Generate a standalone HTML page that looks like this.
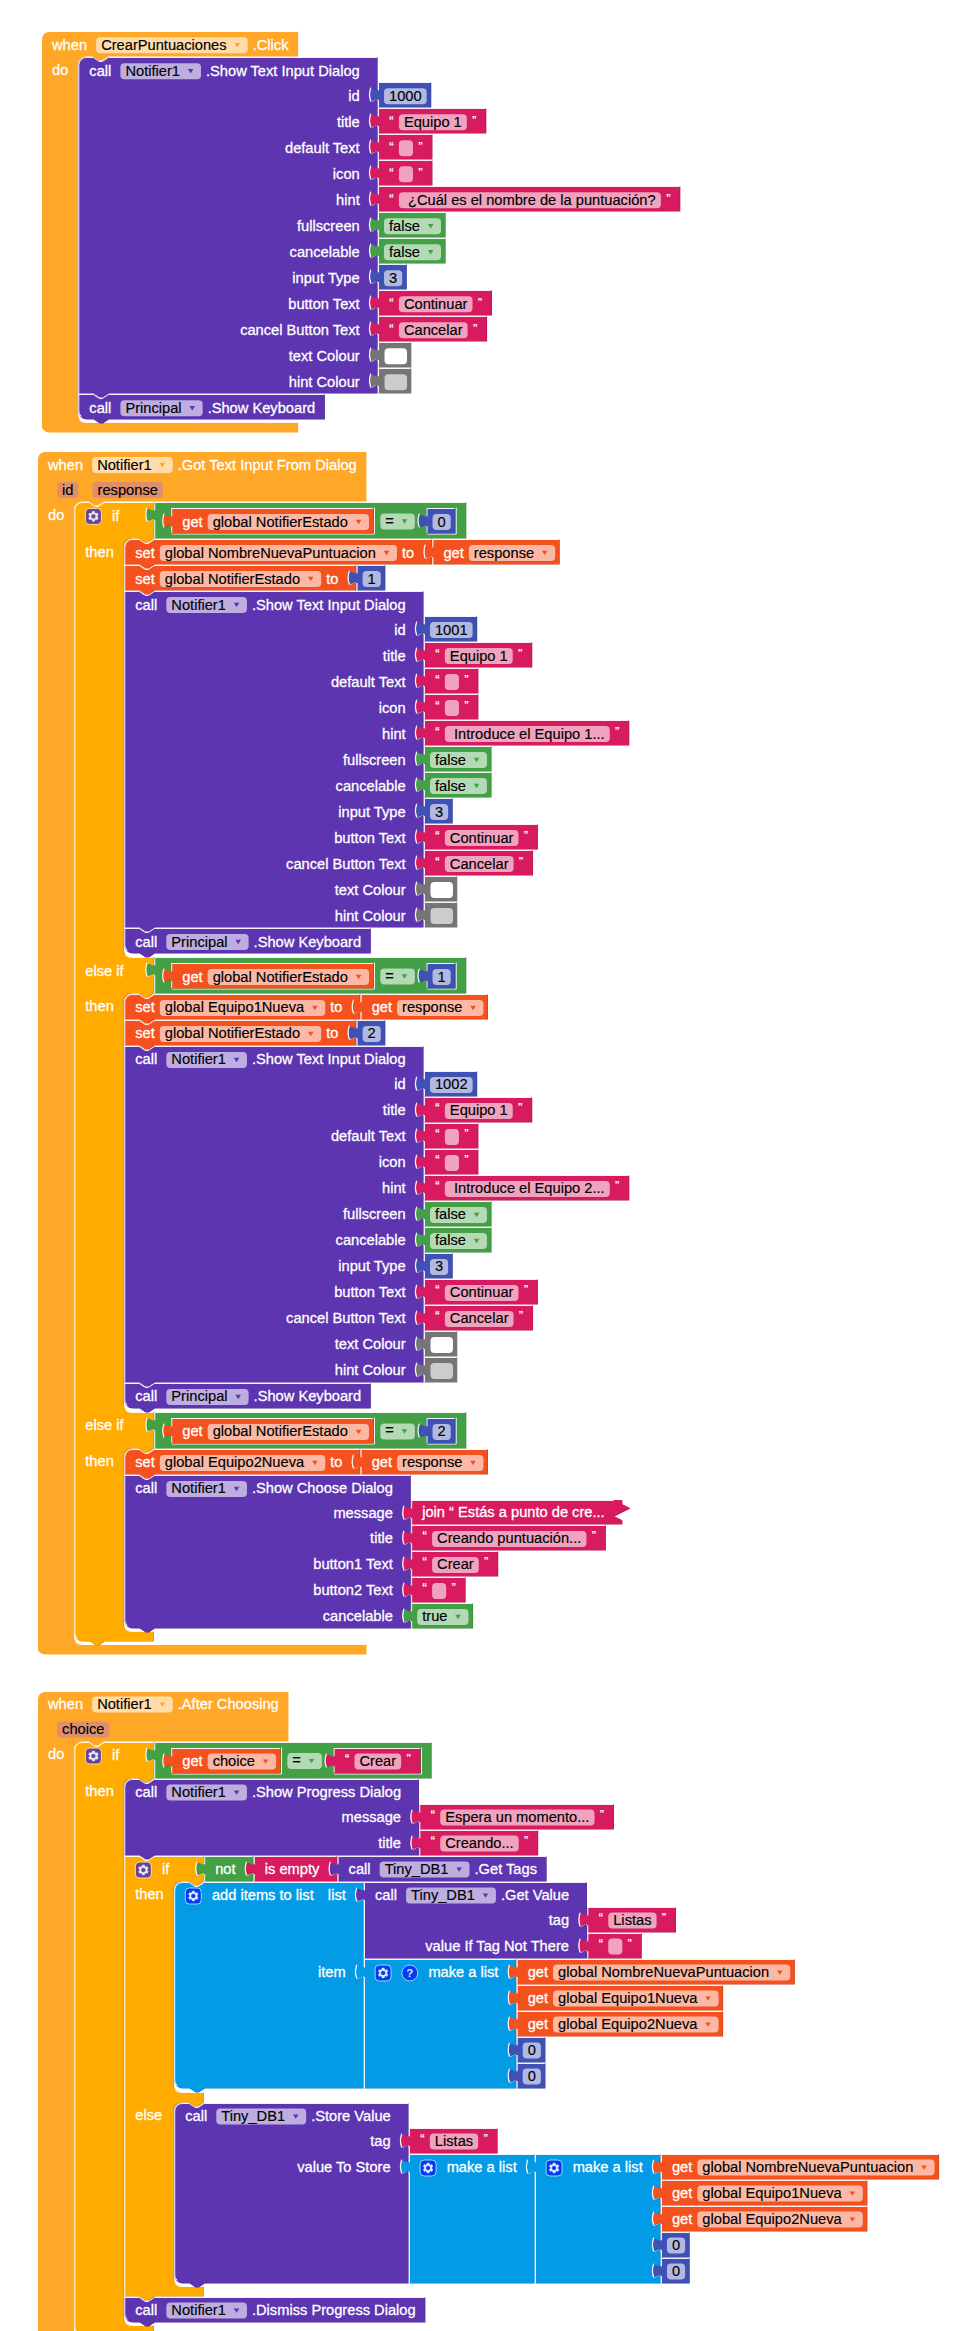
<!DOCTYPE html>
<html><head><meta charset="utf-8"><title>Blocks</title>
<style>
html,body{margin:0;padding:0;background:#fff}
body{width:960px;height:2331px;overflow:hidden}
svg{display:block}
text{font-family:"Liberation Sans",Arial,Helvetica,sans-serif;font-size:14.667px}
.w{fill:#fff;stroke:#fff;stroke-width:0.28px}
.qt{fill:#fff;font-size:13px;stroke:#fff;stroke-width:0.2px}
.k{fill:#000;stroke:#000;stroke-width:0.15px}
.q{fill:#fff;font-weight:bold;font-size:11.5px;text-anchor:middle;fill-opacity:0.85}
</style></head><body>
<svg width="960" height="2331" viewBox="0 0 960 2331">
<rect width="960" height="2331" fill="#fff"/>
<g transform="translate(41,31)"><path d="M 0,8 A 8,8 0 0,1 8,0 H 256.54 H 256.54 v 25 H 66.31 l -6,4 -3,0 -6,-4 h -7 a 8,8 0 0,0 -8,8 v 350 a 8,8 0 0,0 8,8 H 256.54 v 10 H 8 a 8,8 0 0,1 -8,-8 z" fill="#FFA726" transform="translate(0.6,0.6)"/><path d="M 0,8 A 8,8 0 0,1 8,0 H 256.54 H 256.54 v 25 H 66.31 l -6,4 -3,0 -6,-4 h -7 a 8,8 0 0,0 -8,8 v 350 a 8,8 0 0,0 8,8 H 256.54 v 10 H 8 a 8,8 0 0,1 -8,-8 z" fill="#FFA726"/><path d="M 38.3,389.01 a 8.5,8.5 0 0,0 6.01,2.49 H 256.04" fill="none" stroke="#fff9f0" stroke-width="1" stroke-linecap="round"/><path d="M 0,393 V 8 A 8,8 0 0,1 8,0 H 256.54" fill="none" stroke="#fff" stroke-width="2"/><rect x="-1" y="8" width="2" height="395" fill="#fff"/></g>
<rect x="96.14" y="37.2" width="151.56" height="16" rx="4" fill="#fff" fill-opacity="0.6"/>
<path d="M 234.49,43 h 5.6 l -2.8,4.4 z" fill="#FFA726"/>
<g transform="translate(78.31,57)"><path d="M 0,8 A 8,8 0 0,1 8,0 H 15 l 6,4 3,0 6,-4 H 298.72 H 298.72 v 25 H 298.72 v 5 c 0,10 -8,-6 -8,7.5 s 8,-2.5 8,7.5 v 6 H 298.72 v 5 c 0,10 -8,-6 -8,7.5 s 8,-2.5 8,7.5 v 6 H 298.72 v 5 c 0,10 -8,-6 -8,7.5 s 8,-2.5 8,7.5 v 6 H 298.72 v 5 c 0,10 -8,-6 -8,7.5 s 8,-2.5 8,7.5 v 6 H 298.72 v 5 c 0,10 -8,-6 -8,7.5 s 8,-2.5 8,7.5 v 6 H 298.72 v 5 c 0,10 -8,-6 -8,7.5 s 8,-2.5 8,7.5 v 6 H 298.72 v 5 c 0,10 -8,-6 -8,7.5 s 8,-2.5 8,7.5 v 6 H 298.72 v 5 c 0,10 -8,-6 -8,7.5 s 8,-2.5 8,7.5 v 6 H 298.72 v 5 c 0,10 -8,-6 -8,7.5 s 8,-2.5 8,7.5 v 6 H 298.72 v 5 c 0,10 -8,-6 -8,7.5 s 8,-2.5 8,7.5 v 6 H 298.72 v 5 c 0,10 -8,-6 -8,7.5 s 8,-2.5 8,7.5 v 6 H 298.72 v 5 c 0,10 -8,-6 -8,7.5 s 8,-2.5 8,7.5 v 5 H 30 l -6,4 -3,0 -6,-4 H 0 z" fill="#4b2a8e" transform="translate(0.6,0.6)"/><path d="M 0,8 A 8,8 0 0,1 8,0 H 15 l 6,4 3,0 6,-4 H 298.72 H 298.72 v 25 H 298.72 v 5 c 0,10 -8,-6 -8,7.5 s 8,-2.5 8,7.5 v 6 H 298.72 v 5 c 0,10 -8,-6 -8,7.5 s 8,-2.5 8,7.5 v 6 H 298.72 v 5 c 0,10 -8,-6 -8,7.5 s 8,-2.5 8,7.5 v 6 H 298.72 v 5 c 0,10 -8,-6 -8,7.5 s 8,-2.5 8,7.5 v 6 H 298.72 v 5 c 0,10 -8,-6 -8,7.5 s 8,-2.5 8,7.5 v 6 H 298.72 v 5 c 0,10 -8,-6 -8,7.5 s 8,-2.5 8,7.5 v 6 H 298.72 v 5 c 0,10 -8,-6 -8,7.5 s 8,-2.5 8,7.5 v 6 H 298.72 v 5 c 0,10 -8,-6 -8,7.5 s 8,-2.5 8,7.5 v 6 H 298.72 v 5 c 0,10 -8,-6 -8,7.5 s 8,-2.5 8,7.5 v 6 H 298.72 v 5 c 0,10 -8,-6 -8,7.5 s 8,-2.5 8,7.5 v 6 H 298.72 v 5 c 0,10 -8,-6 -8,7.5 s 8,-2.5 8,7.5 v 6 H 298.72 v 5 c 0,10 -8,-6 -8,7.5 s 8,-2.5 8,7.5 v 5 H 30 l -6,4 -3,0 -6,-4 H 0 z" fill="#5E35B1"/><path d="M 0.5,7.5 A 7.5,7.5 0 0,1 8,0.5 H 15 l 6,4 3,0 6,-4 H 298.22 M 0.5,335.5 V 8 M 293.72,44.3 l 3.68,-2.1 M 293.72,70.3 l 3.68,-2.1 M 293.72,96.3 l 3.68,-2.1 M 293.72,122.3 l 3.68,-2.1 M 293.72,148.3 l 3.68,-2.1 M 293.72,174.3 l 3.68,-2.1 M 293.72,200.3 l 3.68,-2.1 M 293.72,226.3 l 3.68,-2.1 M 293.72,252.3 l 3.68,-2.1 M 293.72,278.3 l 3.68,-2.1 M 293.72,304.3 l 3.68,-2.1 M 293.72,330.3 l 3.68,-2.1" fill="none" stroke="#f4f1fa" stroke-width="1" stroke-linecap="round"/></g>
<rect x="120.4" y="63.2" width="80.61" height="16" rx="4" fill="#fff" fill-opacity="0.6"/>
<path d="M 187.81,69 h 5.6 l -2.8,4.4 z" fill="#5E35B1"/>
<g transform="translate(378.03,82)"><path d="M 0,0 H 52.63 H 52.63 v 25 H 0 V 20 c 0,-10 -8,6 -8,-7.5 s 8,2.5 8,-7.5 z" fill="#324191" transform="translate(0.6,0.6)"/><path d="M 0,0 H 52.63 H 52.63 v 25 H 0 V 20 c 0,-10 -8,6 -8,-7.5 s 8,2.5 8,-7.5 z" fill="#3F51B5"/><path d="M 0.5,0.5 H 52.13 M 0.5,24.5 V 18.5 M 0.5,8 V 0.5 H 1" fill="none" stroke="#f2f3fa" stroke-width="1" stroke-linecap="round"/><path d="M -7.4,19 q -2.2,-6.4 0,-12.8" fill="none" stroke="#f2f3fa" stroke-width="1.25" stroke-linecap="round"/></g>
<rect x="384.03" y="88.2" width="42.63" height="16" rx="4" fill="#fff" fill-opacity="0.6"/>
<g transform="translate(378.03,108)"><path d="M 0,0 H 107.67 H 107.67 v 25 H 0 V 20 c 0,-10 -8,6 -8,-7.5 s 8,2.5 8,-7.5 z" fill="#ad164d" transform="translate(0.6,0.6)"/><path d="M 0,0 H 107.67 H 107.67 v 25 H 0 V 20 c 0,-10 -8,6 -8,-7.5 s 8,2.5 8,-7.5 z" fill="#D81B60"/><path d="M 0.5,0.5 H 107.17 M 0.5,24.5 V 18.5 M 0.5,8 V 0.5 H 1" fill="none" stroke="#fceff4" stroke-width="1" stroke-linecap="round"/><path d="M -7.4,19 q -2.2,-6.4 0,-12.8" fill="none" stroke="#fceff4" stroke-width="1.25" stroke-linecap="round"/></g>
<rect x="398.92" y="114.2" width="67.9" height="16" rx="4" fill="#fff" fill-opacity="0.6"/>
<g transform="translate(378.03,134)"><path d="M 0,0 H 53.84 H 53.84 v 25 H 0 V 20 c 0,-10 -8,6 -8,-7.5 s 8,2.5 8,-7.5 z" fill="#ad164d" transform="translate(0.6,0.6)"/><path d="M 0,0 H 53.84 H 53.84 v 25 H 0 V 20 c 0,-10 -8,6 -8,-7.5 s 8,2.5 8,-7.5 z" fill="#D81B60"/><path d="M 0.5,0.5 H 53.34 M 0.5,24.5 V 18.5 M 0.5,8 V 0.5 H 1" fill="none" stroke="#fceff4" stroke-width="1" stroke-linecap="round"/><path d="M -7.4,19 q -2.2,-6.4 0,-12.8" fill="none" stroke="#fceff4" stroke-width="1.25" stroke-linecap="round"/></g>
<rect x="398.92" y="140.2" width="14.07" height="16" rx="4" fill="#fff" fill-opacity="0.6"/>
<g transform="translate(378.03,160)"><path d="M 0,0 H 53.84 H 53.84 v 25 H 0 V 20 c 0,-10 -8,6 -8,-7.5 s 8,2.5 8,-7.5 z" fill="#ad164d" transform="translate(0.6,0.6)"/><path d="M 0,0 H 53.84 H 53.84 v 25 H 0 V 20 c 0,-10 -8,6 -8,-7.5 s 8,2.5 8,-7.5 z" fill="#D81B60"/><path d="M 0.5,0.5 H 53.34 M 0.5,24.5 V 18.5 M 0.5,8 V 0.5 H 1" fill="none" stroke="#fceff4" stroke-width="1" stroke-linecap="round"/><path d="M -7.4,19 q -2.2,-6.4 0,-12.8" fill="none" stroke="#fceff4" stroke-width="1.25" stroke-linecap="round"/></g>
<rect x="398.92" y="166.2" width="14.07" height="16" rx="4" fill="#fff" fill-opacity="0.6"/>
<g transform="translate(378.03,186)"><path d="M 0,0 H 301.7 H 301.7 v 25 H 0 V 20 c 0,-10 -8,6 -8,-7.5 s 8,2.5 8,-7.5 z" fill="#ad164d" transform="translate(0.6,0.6)"/><path d="M 0,0 H 301.7 H 301.7 v 25 H 0 V 20 c 0,-10 -8,6 -8,-7.5 s 8,2.5 8,-7.5 z" fill="#D81B60"/><path d="M 0.5,0.5 H 301.2 M 0.5,24.5 V 18.5 M 0.5,8 V 0.5 H 1" fill="none" stroke="#fceff4" stroke-width="1" stroke-linecap="round"/><path d="M -7.4,19 q -2.2,-6.4 0,-12.8" fill="none" stroke="#fceff4" stroke-width="1.25" stroke-linecap="round"/></g>
<rect x="398.92" y="192.2" width="261.93" height="16" rx="4" fill="#fff" fill-opacity="0.6"/>
<g transform="translate(378.03,212)"><path d="M 0,0 H 66.98 H 66.98 v 25 H 0 V 20 c 0,-10 -8,6 -8,-7.5 s 8,2.5 8,-7.5 z" fill="#368039" transform="translate(0.6,0.6)"/><path d="M 0,0 H 66.98 H 66.98 v 25 H 0 V 20 c 0,-10 -8,6 -8,-7.5 s 8,2.5 8,-7.5 z" fill="#43A047"/><path d="M 0.5,0.5 H 66.48 M 0.5,24.5 V 18.5 M 0.5,8 V 0.5 H 1" fill="none" stroke="#f2f8f2" stroke-width="1" stroke-linecap="round"/><path d="M -7.4,19 q -2.2,-6.4 0,-12.8" fill="none" stroke="#f2f8f2" stroke-width="1.25" stroke-linecap="round"/></g>
<rect x="384.03" y="218.2" width="56.98" height="16" rx="4" fill="#fff" fill-opacity="0.6"/>
<path d="M 427.81,224 h 5.6 l -2.8,4.4 z" fill="#43A047"/>
<g transform="translate(378.03,238)"><path d="M 0,0 H 66.98 H 66.98 v 25 H 0 V 20 c 0,-10 -8,6 -8,-7.5 s 8,2.5 8,-7.5 z" fill="#368039" transform="translate(0.6,0.6)"/><path d="M 0,0 H 66.98 H 66.98 v 25 H 0 V 20 c 0,-10 -8,6 -8,-7.5 s 8,2.5 8,-7.5 z" fill="#43A047"/><path d="M 0.5,0.5 H 66.48 M 0.5,24.5 V 18.5 M 0.5,8 V 0.5 H 1" fill="none" stroke="#f2f8f2" stroke-width="1" stroke-linecap="round"/><path d="M -7.4,19 q -2.2,-6.4 0,-12.8" fill="none" stroke="#f2f8f2" stroke-width="1.25" stroke-linecap="round"/></g>
<rect x="384.03" y="244.2" width="56.98" height="16" rx="4" fill="#fff" fill-opacity="0.6"/>
<path d="M 427.81,250 h 5.6 l -2.8,4.4 z" fill="#43A047"/>
<g transform="translate(378.03,264)"><path d="M 0,0 H 28.16 H 28.16 v 25 H 0 V 20 c 0,-10 -8,6 -8,-7.5 s 8,2.5 8,-7.5 z" fill="#324191" transform="translate(0.6,0.6)"/><path d="M 0,0 H 28.16 H 28.16 v 25 H 0 V 20 c 0,-10 -8,6 -8,-7.5 s 8,2.5 8,-7.5 z" fill="#3F51B5"/><path d="M 0.5,0.5 H 27.66 M 0.5,24.5 V 18.5 M 0.5,8 V 0.5 H 1" fill="none" stroke="#f2f3fa" stroke-width="1" stroke-linecap="round"/><path d="M -7.4,19 q -2.2,-6.4 0,-12.8" fill="none" stroke="#f2f3fa" stroke-width="1.25" stroke-linecap="round"/></g>
<rect x="384.03" y="270.2" width="18.16" height="16" rx="4" fill="#fff" fill-opacity="0.6"/>
<g transform="translate(378.03,290)"><path d="M 0,0 H 113.36 H 113.36 v 25 H 0 V 20 c 0,-10 -8,6 -8,-7.5 s 8,2.5 8,-7.5 z" fill="#ad164d" transform="translate(0.6,0.6)"/><path d="M 0,0 H 113.36 H 113.36 v 25 H 0 V 20 c 0,-10 -8,6 -8,-7.5 s 8,2.5 8,-7.5 z" fill="#D81B60"/><path d="M 0.5,0.5 H 112.86 M 0.5,24.5 V 18.5 M 0.5,8 V 0.5 H 1" fill="none" stroke="#fceff4" stroke-width="1" stroke-linecap="round"/><path d="M -7.4,19 q -2.2,-6.4 0,-12.8" fill="none" stroke="#fceff4" stroke-width="1.25" stroke-linecap="round"/></g>
<rect x="398.92" y="296.2" width="73.59" height="16" rx="4" fill="#fff" fill-opacity="0.6"/>
<g transform="translate(378.03,316)"><path d="M 0,0 H 108.46 H 108.46 v 25 H 0 V 20 c 0,-10 -8,6 -8,-7.5 s 8,2.5 8,-7.5 z" fill="#ad164d" transform="translate(0.6,0.6)"/><path d="M 0,0 H 108.46 H 108.46 v 25 H 0 V 20 c 0,-10 -8,6 -8,-7.5 s 8,2.5 8,-7.5 z" fill="#D81B60"/><path d="M 0.5,0.5 H 107.96 M 0.5,24.5 V 18.5 M 0.5,8 V 0.5 H 1" fill="none" stroke="#fceff4" stroke-width="1" stroke-linecap="round"/><path d="M -7.4,19 q -2.2,-6.4 0,-12.8" fill="none" stroke="#fceff4" stroke-width="1.25" stroke-linecap="round"/></g>
<rect x="398.92" y="322.2" width="68.7" height="16" rx="4" fill="#fff" fill-opacity="0.6"/>
<g transform="translate(378.03,342)"><path d="M 0,0 H 32.7 H 32.7 v 25 H 0 V 20 c 0,-10 -8,6 -8,-7.5 s 8,2.5 8,-7.5 z" fill="#757575" transform="translate(0.6,0.6)"/><path d="M 0,0 H 32.7 H 32.7 v 25 H 0 V 20 c 0,-10 -8,6 -8,-7.5 s 8,2.5 8,-7.5 z" fill="#757575"/><path d="M 0.5,0.5 H 32.2 M 0.5,24.5 V 18.5 M 0.5,8 V 0.5 H 1" fill="none" stroke="#f5f5f5" stroke-width="1" stroke-linecap="round"/><path d="M -7.4,19 q -2.2,-6.4 0,-12.8" fill="none" stroke="#f5f5f5" stroke-width="1.25" stroke-linecap="round"/></g>
<rect x="384.53" y="348.2" width="22.5" height="16" rx="4" fill="#ffffff"/>
<g transform="translate(378.03,368)"><path d="M 0,0 H 32.7 H 32.7 v 25 H 0 V 20 c 0,-10 -8,6 -8,-7.5 s 8,2.5 8,-7.5 z" fill="#757575" transform="translate(0.6,0.6)"/><path d="M 0,0 H 32.7 H 32.7 v 25 H 0 V 20 c 0,-10 -8,6 -8,-7.5 s 8,2.5 8,-7.5 z" fill="#757575"/><path d="M 0.5,0.5 H 32.2 M 0.5,24.5 V 18.5 M 0.5,8 V 0.5 H 1" fill="none" stroke="#f5f5f5" stroke-width="1" stroke-linecap="round"/><path d="M -7.4,19 q -2.2,-6.4 0,-12.8" fill="none" stroke="#f5f5f5" stroke-width="1.25" stroke-linecap="round"/></g>
<rect x="384.53" y="374.2" width="22.5" height="16" rx="4" fill="#cccccc"/>
<g transform="translate(78.31,394)"><path d="M 0,0 H 15 l 6,4 3,0 6,-4 H 245.95 H 245.95 v 25 H 30 l -6,4 -3,0 -6,-4 H 8 a 8,8 0 0,1 -8,-8 z" fill="#4b2a8e" transform="translate(0.6,0.6)"/><path d="M 0,0 H 15 l 6,4 3,0 6,-4 H 245.95 H 245.95 v 25 H 30 l -6,4 -3,0 -6,-4 H 8 a 8,8 0 0,1 -8,-8 z" fill="#5E35B1"/><path d="M 0.5,0.5 H 15 l 6,4 3,0 6,-4 H 245.45 M 2.7,22.3 A 7.5,7.5 0 0,1 0.5,17 V 0.5" fill="none" stroke="#f4f1fa" stroke-width="1" stroke-linecap="round"/></g>
<rect x="120.4" y="400.2" width="82.25" height="16" rx="4" fill="#fff" fill-opacity="0.6"/>
<path d="M 189.44,406 h 5.6 l -2.8,4.4 z" fill="#5E35B1"/>
<g transform="translate(37,451)"><path d="M 0,8 A 8,8 0 0,1 8,0 H 328.82 H 328.82 v 25 H 328.82 v 25 H 66.31 l -6,4 -3,0 -6,-4 h -7 a 8,8 0 0,0 -8,8 v 1127 a 8,8 0 0,0 8,8 H 328.82 v 10 H 8 a 8,8 0 0,1 -8,-8 z" fill="#FFA726" transform="translate(0.6,0.6)"/><path d="M 0,8 A 8,8 0 0,1 8,0 H 328.82 H 328.82 v 25 H 328.82 v 25 H 66.31 l -6,4 -3,0 -6,-4 h -7 a 8,8 0 0,0 -8,8 v 1127 a 8,8 0 0,0 8,8 H 328.82 v 10 H 8 a 8,8 0 0,1 -8,-8 z" fill="#FFA726"/><path d="M 38.3,1191.01 a 8.5,8.5 0 0,0 6.01,2.49 H 328.32" fill="none" stroke="#fff9f0" stroke-width="1" stroke-linecap="round"/><path d="M 0,1195 V 8 A 8,8 0 0,1 8,0 H 328.82" fill="none" stroke="#fff" stroke-width="2"/><rect x="-1" y="8" width="2" height="1197" fill="#fff"/></g>
<rect x="92.14" y="457" width="80.61" height="16" rx="4" fill="#fff" fill-opacity="0.6"/>
<path d="M 159.55,462.8 h 5.6 l -2.8,4.4 z" fill="#FFA726"/>
<rect x="57.07" y="482" width="21.42" height="16" rx="4" fill="#de8f6c"/>
<rect x="92.57" y="482" width="70.34" height="16" rx="4" fill="#de8f6c"/>
<g transform="translate(74.31,502)"><path d="M 0,8 A 8,8 0 0,1 8,0 H 15 l 6,4 3,0 6,-4 H 78.95 H 78.95 v 5 c 0,10 -8,-6 -8,7.5 s 8,-2.5 8,7.5 v 16 H 78.95 l -6,4 -3,0 -6,-4 h -7 a 8,8 0 0,0 -8,8 v 403 a 8,8 0 0,0 8,8 H 78.95 H 78.95 v 5 c 0,10 -8,-6 -8,7.5 s 8,-2.5 8,7.5 v 16 H 78.95 l -6,4 -3,0 -6,-4 h -7 a 8,8 0 0,0 -8,8 v 403 a 8,8 0 0,0 8,8 H 78.95 H 78.95 v 5 c 0,10 -8,-6 -8,7.5 s 8,-2.5 8,7.5 v 16 H 78.95 l -6,4 -3,0 -6,-4 h -7 a 8,8 0 0,0 -8,8 v 167 a 8,8 0 0,0 8,8 H 78.95 v 10 H 30 l -6,4 -3,0 -6,-4 H 8 a 8,8 0 0,1 -8,-8 z" fill="#cc8900" transform="translate(0.6,0.6)"/><path d="M 0,8 A 8,8 0 0,1 8,0 H 15 l 6,4 3,0 6,-4 H 78.95 H 78.95 v 5 c 0,10 -8,-6 -8,7.5 s 8,-2.5 8,7.5 v 16 H 78.95 l -6,4 -3,0 -6,-4 h -7 a 8,8 0 0,0 -8,8 v 403 a 8,8 0 0,0 8,8 H 78.95 H 78.95 v 5 c 0,10 -8,-6 -8,7.5 s 8,-2.5 8,7.5 v 16 H 78.95 l -6,4 -3,0 -6,-4 h -7 a 8,8 0 0,0 -8,8 v 403 a 8,8 0 0,0 8,8 H 78.95 H 78.95 v 5 c 0,10 -8,-6 -8,7.5 s 8,-2.5 8,7.5 v 16 H 78.95 l -6,4 -3,0 -6,-4 h -7 a 8,8 0 0,0 -8,8 v 167 a 8,8 0 0,0 8,8 H 78.95 v 10 H 30 l -6,4 -3,0 -6,-4 H 8 a 8,8 0 0,1 -8,-8 z" fill="#FFAB00"/><path d="M 0.5,7.5 A 7.5,7.5 0 0,1 8,0.5 H 15 l 6,4 3,0 6,-4 H 78.45 M 2.7,1136.3 A 7.5,7.5 0 0,1 0.5,1131 V 8 M 73.95,19.3 l 3.68,-2.1 M 50.94,453.01 a 8.5,8.5 0 0,0 6.01,2.49 H 78.45 M 73.95,474.3 l 3.68,-2.1 M 50.94,908.01 a 8.5,8.5 0 0,0 6.01,2.49 H 78.45 M 73.95,929.3 l 3.68,-2.1 M 50.94,1127.01 a 8.5,8.5 0 0,0 6.01,2.49 H 78.45" fill="none" stroke="#fff9ed" stroke-width="1" stroke-linecap="round"/></g>
<g transform="translate(84.91,507.9)"><rect x="0.5" y="0.5" width="16" height="16" rx="4" fill="#00f" stroke="#fff" opacity="0.6"/><path transform="translate(0.5,0.5)" fill="#fff" fill-opacity="0.88" fill-rule="evenodd" stroke="#fff" stroke-opacity="0.5" stroke-width="0.5" d="m4.203,7.296 0,1.368 -0.92,0.677 -0.11,0.41 0.9,1.559 0.41,0.11 1.043,-0.457 1.187,0.683 0.127,1.134 0.3,0.3 1.8,0 0.3,-0.299 0.127,-1.138 1.185,-0.682 1.046,0.458 0.409,-0.11 0.9,-1.559 -0.11,-0.41 -0.92,-0.677 0,-1.366 0.92,-0.677 0.11,-0.41 -0.9,-1.559 -0.409,-0.109 -1.046,0.458 -1.185,-0.682 -0.127,-1.138 -0.3,-0.299 -1.8,0 -0.3,0.3 -0.126,1.135 -1.187,0.682 -1.043,-0.457 -0.41,0.11 -0.899,1.559 0.108,0.409z M 10.3,8 a 2.3,2.3 0 1,0 -4.6,0 a 2.3,2.3 0 1,0 4.6,0 z"/></g>
<g transform="translate(154.26,502)"><path d="M 0,0 H 311.45 V 36 H 0 V 20 c 0,-10 -8,6 -8,-7.5 s 8,2.5 8,-7.5 z" fill="#368039" transform="translate(0.6,0.6)"/><path d="M 0,0 H 311.45 V 36 H 0 V 20 c 0,-10 -8,6 -8,-7.5 s 8,2.5 8,-7.5 z" fill="#43A047"/><path d="M 0.5,35.5 V 18.5 M 0.5,8 V 0.5 H 310.95" fill="none" stroke="#f2f8f2" stroke-width="1" stroke-linecap="round"/><path d="M -7.4,19 q -2.2,-6.4 0,-12.8" fill="none" stroke="#f2f8f2" stroke-width="1.25" stroke-linecap="round"/></g>
<path d="M 374.49,507.5 v 26.5 h -202.73" fill="none" stroke="#f2f8f2"/>
<g transform="translate(171.26,508)"><path d="M 0,0 H 201.73 H 201.73 v 25 H 0 V 20 c 0,-10 -8,6 -8,-7.5 s 8,2.5 8,-7.5 z" fill="#c34118" transform="translate(0.6,0.6)"/><path d="M 0,0 H 201.73 H 201.73 v 25 H 0 V 20 c 0,-10 -8,6 -8,-7.5 s 8,2.5 8,-7.5 z" fill="#F4511E"/><path d="M 0.5,0.5 H 201.23 M 0.5,24.5 V 18.5 M 0.5,8 V 0.5 H 1" fill="none" stroke="#fef3ef" stroke-width="1" stroke-linecap="round"/><path d="M -7.4,19 q -2.2,-6.4 0,-12.8" fill="none" stroke="#fef3ef" stroke-width="1.25" stroke-linecap="round"/></g>
<rect x="207.65" y="514" width="161.34" height="16" rx="4" fill="#fff" fill-opacity="0.6"/>
<path d="M 355.79,519.8 h 5.6 l -2.8,4.4 z" fill="#F4511E"/>
<rect x="380.29" y="513.5" width="34.57" height="16" rx="4" fill="#fff" fill-opacity="0.6"/>
<path d="M 401.65,519.3 h 5.6 l -2.8,4.4 z" fill="#43A047"/>
<path d="M 456.21,507.5 v 26.5 h -29.16" fill="none" stroke="#f2f8f2"/>
<g transform="translate(426.55,508)"><path d="M 0,0 H 28.16 H 28.16 v 25 H 0 V 20 c 0,-10 -8,6 -8,-7.5 s 8,2.5 8,-7.5 z" fill="#324191" transform="translate(0.6,0.6)"/><path d="M 0,0 H 28.16 H 28.16 v 25 H 0 V 20 c 0,-10 -8,6 -8,-7.5 s 8,2.5 8,-7.5 z" fill="#3F51B5"/><path d="M 0.5,0.5 H 27.66 M 0.5,24.5 V 18.5 M 0.5,8 V 0.5 H 1" fill="none" stroke="#f2f3fa" stroke-width="1" stroke-linecap="round"/><path d="M -7.4,19 q -2.2,-6.4 0,-12.8" fill="none" stroke="#f2f3fa" stroke-width="1.25" stroke-linecap="round"/></g>
<rect x="432.55" y="514" width="18.16" height="16" rx="4" fill="#fff" fill-opacity="0.6"/>
<g transform="translate(124.26,539)"><path d="M 0,8 A 8,8 0 0,1 8,0 H 15 l 6,4 3,0 6,-4 H 307.17 H 307.17 v 5 c 0,10 -8,-6 -8,7.5 s 8,-2.5 8,7.5 v 5 H 30 l -6,4 -3,0 -6,-4 H 0 z" fill="#c34118" transform="translate(0.6,0.6)"/><path d="M 0,8 A 8,8 0 0,1 8,0 H 15 l 6,4 3,0 6,-4 H 307.17 H 307.17 v 5 c 0,10 -8,-6 -8,7.5 s 8,-2.5 8,7.5 v 5 H 30 l -6,4 -3,0 -6,-4 H 0 z" fill="#F4511E"/><path d="M 0.5,7.5 A 7.5,7.5 0 0,1 8,0.5 H 15 l 6,4 3,0 6,-4 H 306.67 M 0.5,24.5 V 8 M 302.17,19.3 l 3.68,-2.1" fill="none" stroke="#fef3ef" stroke-width="1" stroke-linecap="round"/></g>
<rect x="159.82" y="545" width="237.17" height="16" rx="4" fill="#fff" fill-opacity="0.6"/>
<path d="M 383.8,550.8 h 5.6 l -2.8,4.4 z" fill="#F4511E"/>
<g transform="translate(432.43,539)"><path d="M 0,0 H 126.72 H 126.72 v 25 H 0 V 20 c 0,-10 -8,6 -8,-7.5 s 8,2.5 8,-7.5 z" fill="#c34118" transform="translate(0.6,0.6)"/><path d="M 0,0 H 126.72 H 126.72 v 25 H 0 V 20 c 0,-10 -8,6 -8,-7.5 s 8,2.5 8,-7.5 z" fill="#F4511E"/><path d="M 0.5,0.5 H 126.22 M 0.5,24.5 V 18.5 M 0.5,8 V 0.5 H 1" fill="none" stroke="#fef3ef" stroke-width="1" stroke-linecap="round"/><path d="M -7.4,19 q -2.2,-6.4 0,-12.8" fill="none" stroke="#fef3ef" stroke-width="1.25" stroke-linecap="round"/></g>
<rect x="468.82" y="545" width="86.34" height="16" rx="4" fill="#fff" fill-opacity="0.6"/>
<path d="M 541.95,550.8 h 5.6 l -2.8,4.4 z" fill="#F4511E"/>
<g transform="translate(124.26,565)"><path d="M 0,0 H 15 l 6,4 3,0 6,-4 H 231.34 H 231.34 v 5 c 0,10 -8,-6 -8,7.5 s 8,-2.5 8,7.5 v 5 H 30 l -6,4 -3,0 -6,-4 H 0 z" fill="#c34118" transform="translate(0.6,0.6)"/><path d="M 0,0 H 15 l 6,4 3,0 6,-4 H 231.34 H 231.34 v 5 c 0,10 -8,-6 -8,7.5 s 8,-2.5 8,7.5 v 5 H 30 l -6,4 -3,0 -6,-4 H 0 z" fill="#F4511E"/><path d="M 0.5,0.5 H 15 l 6,4 3,0 6,-4 H 230.84 M 0.5,24.5 V 0.5 M 226.34,19.3 l 3.68,-2.1" fill="none" stroke="#fef3ef" stroke-width="1" stroke-linecap="round"/></g>
<rect x="159.82" y="571" width="161.34" height="16" rx="4" fill="#fff" fill-opacity="0.6"/>
<path d="M 307.96,576.8 h 5.6 l -2.8,4.4 z" fill="#F4511E"/>
<g transform="translate(356.6,565)"><path d="M 0,0 H 28.16 H 28.16 v 25 H 0 V 20 c 0,-10 -8,6 -8,-7.5 s 8,2.5 8,-7.5 z" fill="#324191" transform="translate(0.6,0.6)"/><path d="M 0,0 H 28.16 H 28.16 v 25 H 0 V 20 c 0,-10 -8,6 -8,-7.5 s 8,2.5 8,-7.5 z" fill="#3F51B5"/><path d="M 0.5,0.5 H 27.66 M 0.5,24.5 V 18.5 M 0.5,8 V 0.5 H 1" fill="none" stroke="#f2f3fa" stroke-width="1" stroke-linecap="round"/><path d="M -7.4,19 q -2.2,-6.4 0,-12.8" fill="none" stroke="#f2f3fa" stroke-width="1.25" stroke-linecap="round"/></g>
<rect x="362.6" y="571" width="18.16" height="16" rx="4" fill="#fff" fill-opacity="0.6"/>
<g transform="translate(124.26,591)"><path d="M 0,0 H 15 l 6,4 3,0 6,-4 H 298.72 H 298.72 v 25 H 298.72 v 5 c 0,10 -8,-6 -8,7.5 s 8,-2.5 8,7.5 v 6 H 298.72 v 5 c 0,10 -8,-6 -8,7.5 s 8,-2.5 8,7.5 v 6 H 298.72 v 5 c 0,10 -8,-6 -8,7.5 s 8,-2.5 8,7.5 v 6 H 298.72 v 5 c 0,10 -8,-6 -8,7.5 s 8,-2.5 8,7.5 v 6 H 298.72 v 5 c 0,10 -8,-6 -8,7.5 s 8,-2.5 8,7.5 v 6 H 298.72 v 5 c 0,10 -8,-6 -8,7.5 s 8,-2.5 8,7.5 v 6 H 298.72 v 5 c 0,10 -8,-6 -8,7.5 s 8,-2.5 8,7.5 v 6 H 298.72 v 5 c 0,10 -8,-6 -8,7.5 s 8,-2.5 8,7.5 v 6 H 298.72 v 5 c 0,10 -8,-6 -8,7.5 s 8,-2.5 8,7.5 v 6 H 298.72 v 5 c 0,10 -8,-6 -8,7.5 s 8,-2.5 8,7.5 v 6 H 298.72 v 5 c 0,10 -8,-6 -8,7.5 s 8,-2.5 8,7.5 v 6 H 298.72 v 5 c 0,10 -8,-6 -8,7.5 s 8,-2.5 8,7.5 v 5 H 30 l -6,4 -3,0 -6,-4 H 0 z" fill="#4b2a8e" transform="translate(0.6,0.6)"/><path d="M 0,0 H 15 l 6,4 3,0 6,-4 H 298.72 H 298.72 v 25 H 298.72 v 5 c 0,10 -8,-6 -8,7.5 s 8,-2.5 8,7.5 v 6 H 298.72 v 5 c 0,10 -8,-6 -8,7.5 s 8,-2.5 8,7.5 v 6 H 298.72 v 5 c 0,10 -8,-6 -8,7.5 s 8,-2.5 8,7.5 v 6 H 298.72 v 5 c 0,10 -8,-6 -8,7.5 s 8,-2.5 8,7.5 v 6 H 298.72 v 5 c 0,10 -8,-6 -8,7.5 s 8,-2.5 8,7.5 v 6 H 298.72 v 5 c 0,10 -8,-6 -8,7.5 s 8,-2.5 8,7.5 v 6 H 298.72 v 5 c 0,10 -8,-6 -8,7.5 s 8,-2.5 8,7.5 v 6 H 298.72 v 5 c 0,10 -8,-6 -8,7.5 s 8,-2.5 8,7.5 v 6 H 298.72 v 5 c 0,10 -8,-6 -8,7.5 s 8,-2.5 8,7.5 v 6 H 298.72 v 5 c 0,10 -8,-6 -8,7.5 s 8,-2.5 8,7.5 v 6 H 298.72 v 5 c 0,10 -8,-6 -8,7.5 s 8,-2.5 8,7.5 v 6 H 298.72 v 5 c 0,10 -8,-6 -8,7.5 s 8,-2.5 8,7.5 v 5 H 30 l -6,4 -3,0 -6,-4 H 0 z" fill="#5E35B1"/><path d="M 0.5,0.5 H 15 l 6,4 3,0 6,-4 H 298.22 M 0.5,335.5 V 0.5 M 293.72,44.3 l 3.68,-2.1 M 293.72,70.3 l 3.68,-2.1 M 293.72,96.3 l 3.68,-2.1 M 293.72,122.3 l 3.68,-2.1 M 293.72,148.3 l 3.68,-2.1 M 293.72,174.3 l 3.68,-2.1 M 293.72,200.3 l 3.68,-2.1 M 293.72,226.3 l 3.68,-2.1 M 293.72,252.3 l 3.68,-2.1 M 293.72,278.3 l 3.68,-2.1 M 293.72,304.3 l 3.68,-2.1 M 293.72,330.3 l 3.68,-2.1" fill="none" stroke="#f4f1fa" stroke-width="1" stroke-linecap="round"/></g>
<rect x="166.34" y="597" width="80.61" height="16" rx="4" fill="#fff" fill-opacity="0.6"/>
<path d="M 233.76,602.8 h 5.6 l -2.8,4.4 z" fill="#5E35B1"/>
<g transform="translate(423.98,616)"><path d="M 0,0 H 52.63 H 52.63 v 25 H 0 V 20 c 0,-10 -8,6 -8,-7.5 s 8,2.5 8,-7.5 z" fill="#324191" transform="translate(0.6,0.6)"/><path d="M 0,0 H 52.63 H 52.63 v 25 H 0 V 20 c 0,-10 -8,6 -8,-7.5 s 8,2.5 8,-7.5 z" fill="#3F51B5"/><path d="M 0.5,0.5 H 52.13 M 0.5,24.5 V 18.5 M 0.5,8 V 0.5 H 1" fill="none" stroke="#f2f3fa" stroke-width="1" stroke-linecap="round"/><path d="M -7.4,19 q -2.2,-6.4 0,-12.8" fill="none" stroke="#f2f3fa" stroke-width="1.25" stroke-linecap="round"/></g>
<rect x="429.98" y="622" width="42.63" height="16" rx="4" fill="#fff" fill-opacity="0.6"/>
<g transform="translate(423.98,642)"><path d="M 0,0 H 107.67 H 107.67 v 25 H 0 V 20 c 0,-10 -8,6 -8,-7.5 s 8,2.5 8,-7.5 z" fill="#ad164d" transform="translate(0.6,0.6)"/><path d="M 0,0 H 107.67 H 107.67 v 25 H 0 V 20 c 0,-10 -8,6 -8,-7.5 s 8,2.5 8,-7.5 z" fill="#D81B60"/><path d="M 0.5,0.5 H 107.17 M 0.5,24.5 V 18.5 M 0.5,8 V 0.5 H 1" fill="none" stroke="#fceff4" stroke-width="1" stroke-linecap="round"/><path d="M -7.4,19 q -2.2,-6.4 0,-12.8" fill="none" stroke="#fceff4" stroke-width="1.25" stroke-linecap="round"/></g>
<rect x="444.86" y="648" width="67.9" height="16" rx="4" fill="#fff" fill-opacity="0.6"/>
<g transform="translate(423.98,668)"><path d="M 0,0 H 53.84 H 53.84 v 25 H 0 V 20 c 0,-10 -8,6 -8,-7.5 s 8,2.5 8,-7.5 z" fill="#ad164d" transform="translate(0.6,0.6)"/><path d="M 0,0 H 53.84 H 53.84 v 25 H 0 V 20 c 0,-10 -8,6 -8,-7.5 s 8,2.5 8,-7.5 z" fill="#D81B60"/><path d="M 0.5,0.5 H 53.34 M 0.5,24.5 V 18.5 M 0.5,8 V 0.5 H 1" fill="none" stroke="#fceff4" stroke-width="1" stroke-linecap="round"/><path d="M -7.4,19 q -2.2,-6.4 0,-12.8" fill="none" stroke="#fceff4" stroke-width="1.25" stroke-linecap="round"/></g>
<rect x="444.86" y="674" width="14.07" height="16" rx="4" fill="#fff" fill-opacity="0.6"/>
<g transform="translate(423.98,694)"><path d="M 0,0 H 53.84 H 53.84 v 25 H 0 V 20 c 0,-10 -8,6 -8,-7.5 s 8,2.5 8,-7.5 z" fill="#ad164d" transform="translate(0.6,0.6)"/><path d="M 0,0 H 53.84 H 53.84 v 25 H 0 V 20 c 0,-10 -8,6 -8,-7.5 s 8,2.5 8,-7.5 z" fill="#D81B60"/><path d="M 0.5,0.5 H 53.34 M 0.5,24.5 V 18.5 M 0.5,8 V 0.5 H 1" fill="none" stroke="#fceff4" stroke-width="1" stroke-linecap="round"/><path d="M -7.4,19 q -2.2,-6.4 0,-12.8" fill="none" stroke="#fceff4" stroke-width="1.25" stroke-linecap="round"/></g>
<rect x="444.86" y="700" width="14.07" height="16" rx="4" fill="#fff" fill-opacity="0.6"/>
<g transform="translate(423.98,720)"><path d="M 0,0 H 204.69 H 204.69 v 25 H 0 V 20 c 0,-10 -8,6 -8,-7.5 s 8,2.5 8,-7.5 z" fill="#ad164d" transform="translate(0.6,0.6)"/><path d="M 0,0 H 204.69 H 204.69 v 25 H 0 V 20 c 0,-10 -8,6 -8,-7.5 s 8,2.5 8,-7.5 z" fill="#D81B60"/><path d="M 0.5,0.5 H 204.19 M 0.5,24.5 V 18.5 M 0.5,8 V 0.5 H 1" fill="none" stroke="#fceff4" stroke-width="1" stroke-linecap="round"/><path d="M -7.4,19 q -2.2,-6.4 0,-12.8" fill="none" stroke="#fceff4" stroke-width="1.25" stroke-linecap="round"/></g>
<rect x="444.86" y="726" width="164.92" height="16" rx="4" fill="#fff" fill-opacity="0.6"/>
<g transform="translate(423.98,746)"><path d="M 0,0 H 66.98 H 66.98 v 25 H 0 V 20 c 0,-10 -8,6 -8,-7.5 s 8,2.5 8,-7.5 z" fill="#368039" transform="translate(0.6,0.6)"/><path d="M 0,0 H 66.98 H 66.98 v 25 H 0 V 20 c 0,-10 -8,6 -8,-7.5 s 8,2.5 8,-7.5 z" fill="#43A047"/><path d="M 0.5,0.5 H 66.48 M 0.5,24.5 V 18.5 M 0.5,8 V 0.5 H 1" fill="none" stroke="#f2f8f2" stroke-width="1" stroke-linecap="round"/><path d="M -7.4,19 q -2.2,-6.4 0,-12.8" fill="none" stroke="#f2f8f2" stroke-width="1.25" stroke-linecap="round"/></g>
<rect x="429.98" y="752" width="56.98" height="16" rx="4" fill="#fff" fill-opacity="0.6"/>
<path d="M 473.76,757.8 h 5.6 l -2.8,4.4 z" fill="#43A047"/>
<g transform="translate(423.98,772)"><path d="M 0,0 H 66.98 H 66.98 v 25 H 0 V 20 c 0,-10 -8,6 -8,-7.5 s 8,2.5 8,-7.5 z" fill="#368039" transform="translate(0.6,0.6)"/><path d="M 0,0 H 66.98 H 66.98 v 25 H 0 V 20 c 0,-10 -8,6 -8,-7.5 s 8,2.5 8,-7.5 z" fill="#43A047"/><path d="M 0.5,0.5 H 66.48 M 0.5,24.5 V 18.5 M 0.5,8 V 0.5 H 1" fill="none" stroke="#f2f8f2" stroke-width="1" stroke-linecap="round"/><path d="M -7.4,19 q -2.2,-6.4 0,-12.8" fill="none" stroke="#f2f8f2" stroke-width="1.25" stroke-linecap="round"/></g>
<rect x="429.98" y="778" width="56.98" height="16" rx="4" fill="#fff" fill-opacity="0.6"/>
<path d="M 473.76,783.8 h 5.6 l -2.8,4.4 z" fill="#43A047"/>
<g transform="translate(423.98,798)"><path d="M 0,0 H 28.16 H 28.16 v 25 H 0 V 20 c 0,-10 -8,6 -8,-7.5 s 8,2.5 8,-7.5 z" fill="#324191" transform="translate(0.6,0.6)"/><path d="M 0,0 H 28.16 H 28.16 v 25 H 0 V 20 c 0,-10 -8,6 -8,-7.5 s 8,2.5 8,-7.5 z" fill="#3F51B5"/><path d="M 0.5,0.5 H 27.66 M 0.5,24.5 V 18.5 M 0.5,8 V 0.5 H 1" fill="none" stroke="#f2f3fa" stroke-width="1" stroke-linecap="round"/><path d="M -7.4,19 q -2.2,-6.4 0,-12.8" fill="none" stroke="#f2f3fa" stroke-width="1.25" stroke-linecap="round"/></g>
<rect x="429.98" y="804" width="18.16" height="16" rx="4" fill="#fff" fill-opacity="0.6"/>
<g transform="translate(423.98,824)"><path d="M 0,0 H 113.36 H 113.36 v 25 H 0 V 20 c 0,-10 -8,6 -8,-7.5 s 8,2.5 8,-7.5 z" fill="#ad164d" transform="translate(0.6,0.6)"/><path d="M 0,0 H 113.36 H 113.36 v 25 H 0 V 20 c 0,-10 -8,6 -8,-7.5 s 8,2.5 8,-7.5 z" fill="#D81B60"/><path d="M 0.5,0.5 H 112.86 M 0.5,24.5 V 18.5 M 0.5,8 V 0.5 H 1" fill="none" stroke="#fceff4" stroke-width="1" stroke-linecap="round"/><path d="M -7.4,19 q -2.2,-6.4 0,-12.8" fill="none" stroke="#fceff4" stroke-width="1.25" stroke-linecap="round"/></g>
<rect x="444.86" y="830" width="73.59" height="16" rx="4" fill="#fff" fill-opacity="0.6"/>
<g transform="translate(423.98,850)"><path d="M 0,0 H 108.46 H 108.46 v 25 H 0 V 20 c 0,-10 -8,6 -8,-7.5 s 8,2.5 8,-7.5 z" fill="#ad164d" transform="translate(0.6,0.6)"/><path d="M 0,0 H 108.46 H 108.46 v 25 H 0 V 20 c 0,-10 -8,6 -8,-7.5 s 8,2.5 8,-7.5 z" fill="#D81B60"/><path d="M 0.5,0.5 H 107.96 M 0.5,24.5 V 18.5 M 0.5,8 V 0.5 H 1" fill="none" stroke="#fceff4" stroke-width="1" stroke-linecap="round"/><path d="M -7.4,19 q -2.2,-6.4 0,-12.8" fill="none" stroke="#fceff4" stroke-width="1.25" stroke-linecap="round"/></g>
<rect x="444.86" y="856" width="68.7" height="16" rx="4" fill="#fff" fill-opacity="0.6"/>
<g transform="translate(423.98,876)"><path d="M 0,0 H 32.7 H 32.7 v 25 H 0 V 20 c 0,-10 -8,6 -8,-7.5 s 8,2.5 8,-7.5 z" fill="#757575" transform="translate(0.6,0.6)"/><path d="M 0,0 H 32.7 H 32.7 v 25 H 0 V 20 c 0,-10 -8,6 -8,-7.5 s 8,2.5 8,-7.5 z" fill="#757575"/><path d="M 0.5,0.5 H 32.2 M 0.5,24.5 V 18.5 M 0.5,8 V 0.5 H 1" fill="none" stroke="#f5f5f5" stroke-width="1" stroke-linecap="round"/><path d="M -7.4,19 q -2.2,-6.4 0,-12.8" fill="none" stroke="#f5f5f5" stroke-width="1.25" stroke-linecap="round"/></g>
<rect x="430.48" y="882" width="22.5" height="16" rx="4" fill="#ffffff"/>
<g transform="translate(423.98,902)"><path d="M 0,0 H 32.7 H 32.7 v 25 H 0 V 20 c 0,-10 -8,6 -8,-7.5 s 8,2.5 8,-7.5 z" fill="#757575" transform="translate(0.6,0.6)"/><path d="M 0,0 H 32.7 H 32.7 v 25 H 0 V 20 c 0,-10 -8,6 -8,-7.5 s 8,2.5 8,-7.5 z" fill="#757575"/><path d="M 0.5,0.5 H 32.2 M 0.5,24.5 V 18.5 M 0.5,8 V 0.5 H 1" fill="none" stroke="#f5f5f5" stroke-width="1" stroke-linecap="round"/><path d="M -7.4,19 q -2.2,-6.4 0,-12.8" fill="none" stroke="#f5f5f5" stroke-width="1.25" stroke-linecap="round"/></g>
<rect x="430.48" y="908" width="22.5" height="16" rx="4" fill="#cccccc"/>
<g transform="translate(124.26,928)"><path d="M 0,0 H 15 l 6,4 3,0 6,-4 H 245.95 H 245.95 v 25 H 30 l -6,4 -3,0 -6,-4 H 8 a 8,8 0 0,1 -8,-8 z" fill="#4b2a8e" transform="translate(0.6,0.6)"/><path d="M 0,0 H 15 l 6,4 3,0 6,-4 H 245.95 H 245.95 v 25 H 30 l -6,4 -3,0 -6,-4 H 8 a 8,8 0 0,1 -8,-8 z" fill="#5E35B1"/><path d="M 0.5,0.5 H 15 l 6,4 3,0 6,-4 H 245.45 M 2.7,22.3 A 7.5,7.5 0 0,1 0.5,17 V 0.5" fill="none" stroke="#f4f1fa" stroke-width="1" stroke-linecap="round"/></g>
<rect x="166.34" y="934" width="82.25" height="16" rx="4" fill="#fff" fill-opacity="0.6"/>
<path d="M 235.39,939.8 h 5.6 l -2.8,4.4 z" fill="#5E35B1"/>
<g transform="translate(154.26,957)"><path d="M 0,0 H 311.45 V 36 H 0 V 20 c 0,-10 -8,6 -8,-7.5 s 8,2.5 8,-7.5 z" fill="#368039" transform="translate(0.6,0.6)"/><path d="M 0,0 H 311.45 V 36 H 0 V 20 c 0,-10 -8,6 -8,-7.5 s 8,2.5 8,-7.5 z" fill="#43A047"/><path d="M 0.5,35.5 V 18.5 M 0.5,8 V 0.5 H 310.95" fill="none" stroke="#f2f8f2" stroke-width="1" stroke-linecap="round"/><path d="M -7.4,19 q -2.2,-6.4 0,-12.8" fill="none" stroke="#f2f8f2" stroke-width="1.25" stroke-linecap="round"/></g>
<path d="M 374.49,962.5 v 26.5 h -202.73" fill="none" stroke="#f2f8f2"/>
<g transform="translate(171.26,963)"><path d="M 0,0 H 201.73 H 201.73 v 25 H 0 V 20 c 0,-10 -8,6 -8,-7.5 s 8,2.5 8,-7.5 z" fill="#c34118" transform="translate(0.6,0.6)"/><path d="M 0,0 H 201.73 H 201.73 v 25 H 0 V 20 c 0,-10 -8,6 -8,-7.5 s 8,2.5 8,-7.5 z" fill="#F4511E"/><path d="M 0.5,0.5 H 201.23 M 0.5,24.5 V 18.5 M 0.5,8 V 0.5 H 1" fill="none" stroke="#fef3ef" stroke-width="1" stroke-linecap="round"/><path d="M -7.4,19 q -2.2,-6.4 0,-12.8" fill="none" stroke="#fef3ef" stroke-width="1.25" stroke-linecap="round"/></g>
<rect x="207.65" y="969" width="161.34" height="16" rx="4" fill="#fff" fill-opacity="0.6"/>
<path d="M 355.79,974.8 h 5.6 l -2.8,4.4 z" fill="#F4511E"/>
<rect x="380.29" y="968.5" width="34.57" height="16" rx="4" fill="#fff" fill-opacity="0.6"/>
<path d="M 401.65,974.3 h 5.6 l -2.8,4.4 z" fill="#43A047"/>
<path d="M 456.21,962.5 v 26.5 h -29.16" fill="none" stroke="#f2f8f2"/>
<g transform="translate(426.55,963)"><path d="M 0,0 H 28.16 H 28.16 v 25 H 0 V 20 c 0,-10 -8,6 -8,-7.5 s 8,2.5 8,-7.5 z" fill="#324191" transform="translate(0.6,0.6)"/><path d="M 0,0 H 28.16 H 28.16 v 25 H 0 V 20 c 0,-10 -8,6 -8,-7.5 s 8,2.5 8,-7.5 z" fill="#3F51B5"/><path d="M 0.5,0.5 H 27.66 M 0.5,24.5 V 18.5 M 0.5,8 V 0.5 H 1" fill="none" stroke="#f2f3fa" stroke-width="1" stroke-linecap="round"/><path d="M -7.4,19 q -2.2,-6.4 0,-12.8" fill="none" stroke="#f2f3fa" stroke-width="1.25" stroke-linecap="round"/></g>
<rect x="432.55" y="969" width="18.16" height="16" rx="4" fill="#fff" fill-opacity="0.6"/>
<g transform="translate(124.26,994)"><path d="M 0,8 A 8,8 0 0,1 8,0 H 15 l 6,4 3,0 6,-4 H 235.44 H 235.44 v 5 c 0,10 -8,-6 -8,7.5 s 8,-2.5 8,7.5 v 5 H 30 l -6,4 -3,0 -6,-4 H 0 z" fill="#c34118" transform="translate(0.6,0.6)"/><path d="M 0,8 A 8,8 0 0,1 8,0 H 15 l 6,4 3,0 6,-4 H 235.44 H 235.44 v 5 c 0,10 -8,-6 -8,7.5 s 8,-2.5 8,7.5 v 5 H 30 l -6,4 -3,0 -6,-4 H 0 z" fill="#F4511E"/><path d="M 0.5,7.5 A 7.5,7.5 0 0,1 8,0.5 H 15 l 6,4 3,0 6,-4 H 234.94 M 0.5,24.5 V 8 M 230.44,19.3 l 3.68,-2.1" fill="none" stroke="#fef3ef" stroke-width="1" stroke-linecap="round"/></g>
<rect x="159.82" y="1000" width="165.44" height="16" rx="4" fill="#fff" fill-opacity="0.6"/>
<path d="M 312.07,1005.8 h 5.6 l -2.8,4.4 z" fill="#F4511E"/>
<g transform="translate(360.7,994)"><path d="M 0,0 H 126.72 H 126.72 v 25 H 0 V 20 c 0,-10 -8,6 -8,-7.5 s 8,2.5 8,-7.5 z" fill="#c34118" transform="translate(0.6,0.6)"/><path d="M 0,0 H 126.72 H 126.72 v 25 H 0 V 20 c 0,-10 -8,6 -8,-7.5 s 8,2.5 8,-7.5 z" fill="#F4511E"/><path d="M 0.5,0.5 H 126.22 M 0.5,24.5 V 18.5 M 0.5,8 V 0.5 H 1" fill="none" stroke="#fef3ef" stroke-width="1" stroke-linecap="round"/><path d="M -7.4,19 q -2.2,-6.4 0,-12.8" fill="none" stroke="#fef3ef" stroke-width="1.25" stroke-linecap="round"/></g>
<rect x="397.09" y="1000" width="86.34" height="16" rx="4" fill="#fff" fill-opacity="0.6"/>
<path d="M 470.22,1005.8 h 5.6 l -2.8,4.4 z" fill="#F4511E"/>
<g transform="translate(124.26,1020)"><path d="M 0,0 H 15 l 6,4 3,0 6,-4 H 231.34 H 231.34 v 5 c 0,10 -8,-6 -8,7.5 s 8,-2.5 8,7.5 v 5 H 30 l -6,4 -3,0 -6,-4 H 0 z" fill="#c34118" transform="translate(0.6,0.6)"/><path d="M 0,0 H 15 l 6,4 3,0 6,-4 H 231.34 H 231.34 v 5 c 0,10 -8,-6 -8,7.5 s 8,-2.5 8,7.5 v 5 H 30 l -6,4 -3,0 -6,-4 H 0 z" fill="#F4511E"/><path d="M 0.5,0.5 H 15 l 6,4 3,0 6,-4 H 230.84 M 0.5,24.5 V 0.5 M 226.34,19.3 l 3.68,-2.1" fill="none" stroke="#fef3ef" stroke-width="1" stroke-linecap="round"/></g>
<rect x="159.82" y="1026" width="161.34" height="16" rx="4" fill="#fff" fill-opacity="0.6"/>
<path d="M 307.96,1031.8 h 5.6 l -2.8,4.4 z" fill="#F4511E"/>
<g transform="translate(356.6,1020)"><path d="M 0,0 H 28.16 H 28.16 v 25 H 0 V 20 c 0,-10 -8,6 -8,-7.5 s 8,2.5 8,-7.5 z" fill="#324191" transform="translate(0.6,0.6)"/><path d="M 0,0 H 28.16 H 28.16 v 25 H 0 V 20 c 0,-10 -8,6 -8,-7.5 s 8,2.5 8,-7.5 z" fill="#3F51B5"/><path d="M 0.5,0.5 H 27.66 M 0.5,24.5 V 18.5 M 0.5,8 V 0.5 H 1" fill="none" stroke="#f2f3fa" stroke-width="1" stroke-linecap="round"/><path d="M -7.4,19 q -2.2,-6.4 0,-12.8" fill="none" stroke="#f2f3fa" stroke-width="1.25" stroke-linecap="round"/></g>
<rect x="362.6" y="1026" width="18.16" height="16" rx="4" fill="#fff" fill-opacity="0.6"/>
<g transform="translate(124.26,1046)"><path d="M 0,0 H 15 l 6,4 3,0 6,-4 H 298.72 H 298.72 v 25 H 298.72 v 5 c 0,10 -8,-6 -8,7.5 s 8,-2.5 8,7.5 v 6 H 298.72 v 5 c 0,10 -8,-6 -8,7.5 s 8,-2.5 8,7.5 v 6 H 298.72 v 5 c 0,10 -8,-6 -8,7.5 s 8,-2.5 8,7.5 v 6 H 298.72 v 5 c 0,10 -8,-6 -8,7.5 s 8,-2.5 8,7.5 v 6 H 298.72 v 5 c 0,10 -8,-6 -8,7.5 s 8,-2.5 8,7.5 v 6 H 298.72 v 5 c 0,10 -8,-6 -8,7.5 s 8,-2.5 8,7.5 v 6 H 298.72 v 5 c 0,10 -8,-6 -8,7.5 s 8,-2.5 8,7.5 v 6 H 298.72 v 5 c 0,10 -8,-6 -8,7.5 s 8,-2.5 8,7.5 v 6 H 298.72 v 5 c 0,10 -8,-6 -8,7.5 s 8,-2.5 8,7.5 v 6 H 298.72 v 5 c 0,10 -8,-6 -8,7.5 s 8,-2.5 8,7.5 v 6 H 298.72 v 5 c 0,10 -8,-6 -8,7.5 s 8,-2.5 8,7.5 v 6 H 298.72 v 5 c 0,10 -8,-6 -8,7.5 s 8,-2.5 8,7.5 v 5 H 30 l -6,4 -3,0 -6,-4 H 0 z" fill="#4b2a8e" transform="translate(0.6,0.6)"/><path d="M 0,0 H 15 l 6,4 3,0 6,-4 H 298.72 H 298.72 v 25 H 298.72 v 5 c 0,10 -8,-6 -8,7.5 s 8,-2.5 8,7.5 v 6 H 298.72 v 5 c 0,10 -8,-6 -8,7.5 s 8,-2.5 8,7.5 v 6 H 298.72 v 5 c 0,10 -8,-6 -8,7.5 s 8,-2.5 8,7.5 v 6 H 298.72 v 5 c 0,10 -8,-6 -8,7.5 s 8,-2.5 8,7.5 v 6 H 298.72 v 5 c 0,10 -8,-6 -8,7.5 s 8,-2.5 8,7.5 v 6 H 298.72 v 5 c 0,10 -8,-6 -8,7.5 s 8,-2.5 8,7.5 v 6 H 298.72 v 5 c 0,10 -8,-6 -8,7.5 s 8,-2.5 8,7.5 v 6 H 298.72 v 5 c 0,10 -8,-6 -8,7.5 s 8,-2.5 8,7.5 v 6 H 298.72 v 5 c 0,10 -8,-6 -8,7.5 s 8,-2.5 8,7.5 v 6 H 298.72 v 5 c 0,10 -8,-6 -8,7.5 s 8,-2.5 8,7.5 v 6 H 298.72 v 5 c 0,10 -8,-6 -8,7.5 s 8,-2.5 8,7.5 v 6 H 298.72 v 5 c 0,10 -8,-6 -8,7.5 s 8,-2.5 8,7.5 v 5 H 30 l -6,4 -3,0 -6,-4 H 0 z" fill="#5E35B1"/><path d="M 0.5,0.5 H 15 l 6,4 3,0 6,-4 H 298.22 M 0.5,335.5 V 0.5 M 293.72,44.3 l 3.68,-2.1 M 293.72,70.3 l 3.68,-2.1 M 293.72,96.3 l 3.68,-2.1 M 293.72,122.3 l 3.68,-2.1 M 293.72,148.3 l 3.68,-2.1 M 293.72,174.3 l 3.68,-2.1 M 293.72,200.3 l 3.68,-2.1 M 293.72,226.3 l 3.68,-2.1 M 293.72,252.3 l 3.68,-2.1 M 293.72,278.3 l 3.68,-2.1 M 293.72,304.3 l 3.68,-2.1 M 293.72,330.3 l 3.68,-2.1" fill="none" stroke="#f4f1fa" stroke-width="1" stroke-linecap="round"/></g>
<rect x="166.34" y="1052" width="80.61" height="16" rx="4" fill="#fff" fill-opacity="0.6"/>
<path d="M 233.76,1057.8 h 5.6 l -2.8,4.4 z" fill="#5E35B1"/>
<g transform="translate(423.98,1071)"><path d="M 0,0 H 52.63 H 52.63 v 25 H 0 V 20 c 0,-10 -8,6 -8,-7.5 s 8,2.5 8,-7.5 z" fill="#324191" transform="translate(0.6,0.6)"/><path d="M 0,0 H 52.63 H 52.63 v 25 H 0 V 20 c 0,-10 -8,6 -8,-7.5 s 8,2.5 8,-7.5 z" fill="#3F51B5"/><path d="M 0.5,0.5 H 52.13 M 0.5,24.5 V 18.5 M 0.5,8 V 0.5 H 1" fill="none" stroke="#f2f3fa" stroke-width="1" stroke-linecap="round"/><path d="M -7.4,19 q -2.2,-6.4 0,-12.8" fill="none" stroke="#f2f3fa" stroke-width="1.25" stroke-linecap="round"/></g>
<rect x="429.98" y="1077" width="42.63" height="16" rx="4" fill="#fff" fill-opacity="0.6"/>
<g transform="translate(423.98,1097)"><path d="M 0,0 H 107.67 H 107.67 v 25 H 0 V 20 c 0,-10 -8,6 -8,-7.5 s 8,2.5 8,-7.5 z" fill="#ad164d" transform="translate(0.6,0.6)"/><path d="M 0,0 H 107.67 H 107.67 v 25 H 0 V 20 c 0,-10 -8,6 -8,-7.5 s 8,2.5 8,-7.5 z" fill="#D81B60"/><path d="M 0.5,0.5 H 107.17 M 0.5,24.5 V 18.5 M 0.5,8 V 0.5 H 1" fill="none" stroke="#fceff4" stroke-width="1" stroke-linecap="round"/><path d="M -7.4,19 q -2.2,-6.4 0,-12.8" fill="none" stroke="#fceff4" stroke-width="1.25" stroke-linecap="round"/></g>
<rect x="444.86" y="1103" width="67.9" height="16" rx="4" fill="#fff" fill-opacity="0.6"/>
<g transform="translate(423.98,1123)"><path d="M 0,0 H 53.84 H 53.84 v 25 H 0 V 20 c 0,-10 -8,6 -8,-7.5 s 8,2.5 8,-7.5 z" fill="#ad164d" transform="translate(0.6,0.6)"/><path d="M 0,0 H 53.84 H 53.84 v 25 H 0 V 20 c 0,-10 -8,6 -8,-7.5 s 8,2.5 8,-7.5 z" fill="#D81B60"/><path d="M 0.5,0.5 H 53.34 M 0.5,24.5 V 18.5 M 0.5,8 V 0.5 H 1" fill="none" stroke="#fceff4" stroke-width="1" stroke-linecap="round"/><path d="M -7.4,19 q -2.2,-6.4 0,-12.8" fill="none" stroke="#fceff4" stroke-width="1.25" stroke-linecap="round"/></g>
<rect x="444.86" y="1129" width="14.07" height="16" rx="4" fill="#fff" fill-opacity="0.6"/>
<g transform="translate(423.98,1149)"><path d="M 0,0 H 53.84 H 53.84 v 25 H 0 V 20 c 0,-10 -8,6 -8,-7.5 s 8,2.5 8,-7.5 z" fill="#ad164d" transform="translate(0.6,0.6)"/><path d="M 0,0 H 53.84 H 53.84 v 25 H 0 V 20 c 0,-10 -8,6 -8,-7.5 s 8,2.5 8,-7.5 z" fill="#D81B60"/><path d="M 0.5,0.5 H 53.34 M 0.5,24.5 V 18.5 M 0.5,8 V 0.5 H 1" fill="none" stroke="#fceff4" stroke-width="1" stroke-linecap="round"/><path d="M -7.4,19 q -2.2,-6.4 0,-12.8" fill="none" stroke="#fceff4" stroke-width="1.25" stroke-linecap="round"/></g>
<rect x="444.86" y="1155" width="14.07" height="16" rx="4" fill="#fff" fill-opacity="0.6"/>
<g transform="translate(423.98,1175)"><path d="M 0,0 H 204.69 H 204.69 v 25 H 0 V 20 c 0,-10 -8,6 -8,-7.5 s 8,2.5 8,-7.5 z" fill="#ad164d" transform="translate(0.6,0.6)"/><path d="M 0,0 H 204.69 H 204.69 v 25 H 0 V 20 c 0,-10 -8,6 -8,-7.5 s 8,2.5 8,-7.5 z" fill="#D81B60"/><path d="M 0.5,0.5 H 204.19 M 0.5,24.5 V 18.5 M 0.5,8 V 0.5 H 1" fill="none" stroke="#fceff4" stroke-width="1" stroke-linecap="round"/><path d="M -7.4,19 q -2.2,-6.4 0,-12.8" fill="none" stroke="#fceff4" stroke-width="1.25" stroke-linecap="round"/></g>
<rect x="444.86" y="1181" width="164.92" height="16" rx="4" fill="#fff" fill-opacity="0.6"/>
<g transform="translate(423.98,1201)"><path d="M 0,0 H 66.98 H 66.98 v 25 H 0 V 20 c 0,-10 -8,6 -8,-7.5 s 8,2.5 8,-7.5 z" fill="#368039" transform="translate(0.6,0.6)"/><path d="M 0,0 H 66.98 H 66.98 v 25 H 0 V 20 c 0,-10 -8,6 -8,-7.5 s 8,2.5 8,-7.5 z" fill="#43A047"/><path d="M 0.5,0.5 H 66.48 M 0.5,24.5 V 18.5 M 0.5,8 V 0.5 H 1" fill="none" stroke="#f2f8f2" stroke-width="1" stroke-linecap="round"/><path d="M -7.4,19 q -2.2,-6.4 0,-12.8" fill="none" stroke="#f2f8f2" stroke-width="1.25" stroke-linecap="round"/></g>
<rect x="429.98" y="1207" width="56.98" height="16" rx="4" fill="#fff" fill-opacity="0.6"/>
<path d="M 473.76,1212.8 h 5.6 l -2.8,4.4 z" fill="#43A047"/>
<g transform="translate(423.98,1227)"><path d="M 0,0 H 66.98 H 66.98 v 25 H 0 V 20 c 0,-10 -8,6 -8,-7.5 s 8,2.5 8,-7.5 z" fill="#368039" transform="translate(0.6,0.6)"/><path d="M 0,0 H 66.98 H 66.98 v 25 H 0 V 20 c 0,-10 -8,6 -8,-7.5 s 8,2.5 8,-7.5 z" fill="#43A047"/><path d="M 0.5,0.5 H 66.48 M 0.5,24.5 V 18.5 M 0.5,8 V 0.5 H 1" fill="none" stroke="#f2f8f2" stroke-width="1" stroke-linecap="round"/><path d="M -7.4,19 q -2.2,-6.4 0,-12.8" fill="none" stroke="#f2f8f2" stroke-width="1.25" stroke-linecap="round"/></g>
<rect x="429.98" y="1233" width="56.98" height="16" rx="4" fill="#fff" fill-opacity="0.6"/>
<path d="M 473.76,1238.8 h 5.6 l -2.8,4.4 z" fill="#43A047"/>
<g transform="translate(423.98,1253)"><path d="M 0,0 H 28.16 H 28.16 v 25 H 0 V 20 c 0,-10 -8,6 -8,-7.5 s 8,2.5 8,-7.5 z" fill="#324191" transform="translate(0.6,0.6)"/><path d="M 0,0 H 28.16 H 28.16 v 25 H 0 V 20 c 0,-10 -8,6 -8,-7.5 s 8,2.5 8,-7.5 z" fill="#3F51B5"/><path d="M 0.5,0.5 H 27.66 M 0.5,24.5 V 18.5 M 0.5,8 V 0.5 H 1" fill="none" stroke="#f2f3fa" stroke-width="1" stroke-linecap="round"/><path d="M -7.4,19 q -2.2,-6.4 0,-12.8" fill="none" stroke="#f2f3fa" stroke-width="1.25" stroke-linecap="round"/></g>
<rect x="429.98" y="1259" width="18.16" height="16" rx="4" fill="#fff" fill-opacity="0.6"/>
<g transform="translate(423.98,1279)"><path d="M 0,0 H 113.36 H 113.36 v 25 H 0 V 20 c 0,-10 -8,6 -8,-7.5 s 8,2.5 8,-7.5 z" fill="#ad164d" transform="translate(0.6,0.6)"/><path d="M 0,0 H 113.36 H 113.36 v 25 H 0 V 20 c 0,-10 -8,6 -8,-7.5 s 8,2.5 8,-7.5 z" fill="#D81B60"/><path d="M 0.5,0.5 H 112.86 M 0.5,24.5 V 18.5 M 0.5,8 V 0.5 H 1" fill="none" stroke="#fceff4" stroke-width="1" stroke-linecap="round"/><path d="M -7.4,19 q -2.2,-6.4 0,-12.8" fill="none" stroke="#fceff4" stroke-width="1.25" stroke-linecap="round"/></g>
<rect x="444.86" y="1285" width="73.59" height="16" rx="4" fill="#fff" fill-opacity="0.6"/>
<g transform="translate(423.98,1305)"><path d="M 0,0 H 108.46 H 108.46 v 25 H 0 V 20 c 0,-10 -8,6 -8,-7.5 s 8,2.5 8,-7.5 z" fill="#ad164d" transform="translate(0.6,0.6)"/><path d="M 0,0 H 108.46 H 108.46 v 25 H 0 V 20 c 0,-10 -8,6 -8,-7.5 s 8,2.5 8,-7.5 z" fill="#D81B60"/><path d="M 0.5,0.5 H 107.96 M 0.5,24.5 V 18.5 M 0.5,8 V 0.5 H 1" fill="none" stroke="#fceff4" stroke-width="1" stroke-linecap="round"/><path d="M -7.4,19 q -2.2,-6.4 0,-12.8" fill="none" stroke="#fceff4" stroke-width="1.25" stroke-linecap="round"/></g>
<rect x="444.86" y="1311" width="68.7" height="16" rx="4" fill="#fff" fill-opacity="0.6"/>
<g transform="translate(423.98,1331)"><path d="M 0,0 H 32.7 H 32.7 v 25 H 0 V 20 c 0,-10 -8,6 -8,-7.5 s 8,2.5 8,-7.5 z" fill="#757575" transform="translate(0.6,0.6)"/><path d="M 0,0 H 32.7 H 32.7 v 25 H 0 V 20 c 0,-10 -8,6 -8,-7.5 s 8,2.5 8,-7.5 z" fill="#757575"/><path d="M 0.5,0.5 H 32.2 M 0.5,24.5 V 18.5 M 0.5,8 V 0.5 H 1" fill="none" stroke="#f5f5f5" stroke-width="1" stroke-linecap="round"/><path d="M -7.4,19 q -2.2,-6.4 0,-12.8" fill="none" stroke="#f5f5f5" stroke-width="1.25" stroke-linecap="round"/></g>
<rect x="430.48" y="1337" width="22.5" height="16" rx="4" fill="#ffffff"/>
<g transform="translate(423.98,1357)"><path d="M 0,0 H 32.7 H 32.7 v 25 H 0 V 20 c 0,-10 -8,6 -8,-7.5 s 8,2.5 8,-7.5 z" fill="#757575" transform="translate(0.6,0.6)"/><path d="M 0,0 H 32.7 H 32.7 v 25 H 0 V 20 c 0,-10 -8,6 -8,-7.5 s 8,2.5 8,-7.5 z" fill="#757575"/><path d="M 0.5,0.5 H 32.2 M 0.5,24.5 V 18.5 M 0.5,8 V 0.5 H 1" fill="none" stroke="#f5f5f5" stroke-width="1" stroke-linecap="round"/><path d="M -7.4,19 q -2.2,-6.4 0,-12.8" fill="none" stroke="#f5f5f5" stroke-width="1.25" stroke-linecap="round"/></g>
<rect x="430.48" y="1363" width="22.5" height="16" rx="4" fill="#cccccc"/>
<g transform="translate(124.26,1383)"><path d="M 0,0 H 15 l 6,4 3,0 6,-4 H 245.95 H 245.95 v 25 H 30 l -6,4 -3,0 -6,-4 H 8 a 8,8 0 0,1 -8,-8 z" fill="#4b2a8e" transform="translate(0.6,0.6)"/><path d="M 0,0 H 15 l 6,4 3,0 6,-4 H 245.95 H 245.95 v 25 H 30 l -6,4 -3,0 -6,-4 H 8 a 8,8 0 0,1 -8,-8 z" fill="#5E35B1"/><path d="M 0.5,0.5 H 15 l 6,4 3,0 6,-4 H 245.45 M 2.7,22.3 A 7.5,7.5 0 0,1 0.5,17 V 0.5" fill="none" stroke="#f4f1fa" stroke-width="1" stroke-linecap="round"/></g>
<rect x="166.34" y="1389" width="82.25" height="16" rx="4" fill="#fff" fill-opacity="0.6"/>
<path d="M 235.39,1394.8 h 5.6 l -2.8,4.4 z" fill="#5E35B1"/>
<g transform="translate(154.26,1412)"><path d="M 0,0 H 311.45 V 36 H 0 V 20 c 0,-10 -8,6 -8,-7.5 s 8,2.5 8,-7.5 z" fill="#368039" transform="translate(0.6,0.6)"/><path d="M 0,0 H 311.45 V 36 H 0 V 20 c 0,-10 -8,6 -8,-7.5 s 8,2.5 8,-7.5 z" fill="#43A047"/><path d="M 0.5,35.5 V 18.5 M 0.5,8 V 0.5 H 310.95" fill="none" stroke="#f2f8f2" stroke-width="1" stroke-linecap="round"/><path d="M -7.4,19 q -2.2,-6.4 0,-12.8" fill="none" stroke="#f2f8f2" stroke-width="1.25" stroke-linecap="round"/></g>
<path d="M 374.49,1417.5 v 26.5 h -202.73" fill="none" stroke="#f2f8f2"/>
<g transform="translate(171.26,1418)"><path d="M 0,0 H 201.73 H 201.73 v 25 H 0 V 20 c 0,-10 -8,6 -8,-7.5 s 8,2.5 8,-7.5 z" fill="#c34118" transform="translate(0.6,0.6)"/><path d="M 0,0 H 201.73 H 201.73 v 25 H 0 V 20 c 0,-10 -8,6 -8,-7.5 s 8,2.5 8,-7.5 z" fill="#F4511E"/><path d="M 0.5,0.5 H 201.23 M 0.5,24.5 V 18.5 M 0.5,8 V 0.5 H 1" fill="none" stroke="#fef3ef" stroke-width="1" stroke-linecap="round"/><path d="M -7.4,19 q -2.2,-6.4 0,-12.8" fill="none" stroke="#fef3ef" stroke-width="1.25" stroke-linecap="round"/></g>
<rect x="207.65" y="1424" width="161.34" height="16" rx="4" fill="#fff" fill-opacity="0.6"/>
<path d="M 355.79,1429.8 h 5.6 l -2.8,4.4 z" fill="#F4511E"/>
<rect x="380.29" y="1423.5" width="34.57" height="16" rx="4" fill="#fff" fill-opacity="0.6"/>
<path d="M 401.65,1429.3 h 5.6 l -2.8,4.4 z" fill="#43A047"/>
<path d="M 456.21,1417.5 v 26.5 h -29.16" fill="none" stroke="#f2f8f2"/>
<g transform="translate(426.55,1418)"><path d="M 0,0 H 28.16 H 28.16 v 25 H 0 V 20 c 0,-10 -8,6 -8,-7.5 s 8,2.5 8,-7.5 z" fill="#324191" transform="translate(0.6,0.6)"/><path d="M 0,0 H 28.16 H 28.16 v 25 H 0 V 20 c 0,-10 -8,6 -8,-7.5 s 8,2.5 8,-7.5 z" fill="#3F51B5"/><path d="M 0.5,0.5 H 27.66 M 0.5,24.5 V 18.5 M 0.5,8 V 0.5 H 1" fill="none" stroke="#f2f3fa" stroke-width="1" stroke-linecap="round"/><path d="M -7.4,19 q -2.2,-6.4 0,-12.8" fill="none" stroke="#f2f3fa" stroke-width="1.25" stroke-linecap="round"/></g>
<rect x="432.55" y="1424" width="18.16" height="16" rx="4" fill="#fff" fill-opacity="0.6"/>
<g transform="translate(124.26,1449)"><path d="M 0,8 A 8,8 0 0,1 8,0 H 15 l 6,4 3,0 6,-4 H 235.44 H 235.44 v 5 c 0,10 -8,-6 -8,7.5 s 8,-2.5 8,7.5 v 5 H 30 l -6,4 -3,0 -6,-4 H 0 z" fill="#c34118" transform="translate(0.6,0.6)"/><path d="M 0,8 A 8,8 0 0,1 8,0 H 15 l 6,4 3,0 6,-4 H 235.44 H 235.44 v 5 c 0,10 -8,-6 -8,7.5 s 8,-2.5 8,7.5 v 5 H 30 l -6,4 -3,0 -6,-4 H 0 z" fill="#F4511E"/><path d="M 0.5,7.5 A 7.5,7.5 0 0,1 8,0.5 H 15 l 6,4 3,0 6,-4 H 234.94 M 0.5,24.5 V 8 M 230.44,19.3 l 3.68,-2.1" fill="none" stroke="#fef3ef" stroke-width="1" stroke-linecap="round"/></g>
<rect x="159.82" y="1455" width="165.44" height="16" rx="4" fill="#fff" fill-opacity="0.6"/>
<path d="M 312.07,1460.8 h 5.6 l -2.8,4.4 z" fill="#F4511E"/>
<g transform="translate(360.7,1449)"><path d="M 0,0 H 126.72 H 126.72 v 25 H 0 V 20 c 0,-10 -8,6 -8,-7.5 s 8,2.5 8,-7.5 z" fill="#c34118" transform="translate(0.6,0.6)"/><path d="M 0,0 H 126.72 H 126.72 v 25 H 0 V 20 c 0,-10 -8,6 -8,-7.5 s 8,2.5 8,-7.5 z" fill="#F4511E"/><path d="M 0.5,0.5 H 126.22 M 0.5,24.5 V 18.5 M 0.5,8 V 0.5 H 1" fill="none" stroke="#fef3ef" stroke-width="1" stroke-linecap="round"/><path d="M -7.4,19 q -2.2,-6.4 0,-12.8" fill="none" stroke="#fef3ef" stroke-width="1.25" stroke-linecap="round"/></g>
<rect x="397.09" y="1455" width="86.34" height="16" rx="4" fill="#fff" fill-opacity="0.6"/>
<path d="M 470.22,1460.8 h 5.6 l -2.8,4.4 z" fill="#F4511E"/>
<g transform="translate(124.26,1475)"><path d="M 0,0 H 15 l 6,4 3,0 6,-4 H 285.94 H 285.94 v 25 H 285.94 v 5 c 0,10 -8,-6 -8,7.5 s 8,-2.5 8,7.5 v 5 H 285.94 v 5 c 0,10 -8,-6 -8,7.5 s 8,-2.5 8,7.5 v 6 H 285.94 v 5 c 0,10 -8,-6 -8,7.5 s 8,-2.5 8,7.5 v 6 H 285.94 v 5 c 0,10 -8,-6 -8,7.5 s 8,-2.5 8,7.5 v 6 H 285.94 v 5 c 0,10 -8,-6 -8,7.5 s 8,-2.5 8,7.5 v 5 H 30 l -6,4 -3,0 -6,-4 H 8 a 8,8 0 0,1 -8,-8 z" fill="#4b2a8e" transform="translate(0.6,0.6)"/><path d="M 0,0 H 15 l 6,4 3,0 6,-4 H 285.94 H 285.94 v 25 H 285.94 v 5 c 0,10 -8,-6 -8,7.5 s 8,-2.5 8,7.5 v 5 H 285.94 v 5 c 0,10 -8,-6 -8,7.5 s 8,-2.5 8,7.5 v 6 H 285.94 v 5 c 0,10 -8,-6 -8,7.5 s 8,-2.5 8,7.5 v 6 H 285.94 v 5 c 0,10 -8,-6 -8,7.5 s 8,-2.5 8,7.5 v 6 H 285.94 v 5 c 0,10 -8,-6 -8,7.5 s 8,-2.5 8,7.5 v 5 H 30 l -6,4 -3,0 -6,-4 H 8 a 8,8 0 0,1 -8,-8 z" fill="#5E35B1"/><path d="M 0.5,0.5 H 15 l 6,4 3,0 6,-4 H 285.44 M 2.7,150.3 A 7.5,7.5 0 0,1 0.5,145 V 0.5 M 280.94,44.3 l 3.68,-2.1 M 280.94,69.3 l 3.68,-2.1 M 280.94,95.3 l 3.68,-2.1 M 280.94,121.3 l 3.68,-2.1 M 280.94,147.3 l 3.68,-2.1" fill="none" stroke="#f4f1fa" stroke-width="1" stroke-linecap="round"/></g>
<rect x="166.34" y="1481" width="80.61" height="16" rx="4" fill="#fff" fill-opacity="0.6"/>
<path d="M 233.76,1486.8 h 5.6 l -2.8,4.4 z" fill="#5E35B1"/>
<g transform="translate(411.2,1500)"><path d="M 0,0 H 202.62 h 8 v 4 l 8,4 -16,8 8,4 v 4 H 0 V 20 c 0,-10 -8,6 -8,-7.5 s 8,2.5 8,-7.5 z" fill="#ad164d" transform="translate(0.6,0.6)"/><path d="M 0,0 H 202.62 h 8 v 4 l 8,4 -16,8 8,4 v 4 H 0 V 20 c 0,-10 -8,6 -8,-7.5 s 8,2.5 8,-7.5 z" fill="#D81B60"/><path d="M 0.5,0.5 H 202.12 M 0.5,23.5 V 18.5 M 0.5,8 V 0.5 H 1" fill="none" stroke="#fceff4" stroke-width="1" stroke-linecap="round"/><path d="M -7.4,19 q -2.2,-6.4 0,-12.8" fill="none" stroke="#fceff4" stroke-width="1.25" stroke-linecap="round"/></g>
<g transform="translate(411.2,1525)"><path d="M 0,0 H 194.09 H 194.09 v 25 H 0 V 20 c 0,-10 -8,6 -8,-7.5 s 8,2.5 8,-7.5 z" fill="#ad164d" transform="translate(0.6,0.6)"/><path d="M 0,0 H 194.09 H 194.09 v 25 H 0 V 20 c 0,-10 -8,6 -8,-7.5 s 8,2.5 8,-7.5 z" fill="#D81B60"/><path d="M 0.5,0.5 H 193.59 M 0.5,24.5 V 18.5 M 0.5,8 V 0.5 H 1" fill="none" stroke="#fceff4" stroke-width="1" stroke-linecap="round"/><path d="M -7.4,19 q -2.2,-6.4 0,-12.8" fill="none" stroke="#fceff4" stroke-width="1.25" stroke-linecap="round"/></g>
<rect x="432.09" y="1531" width="154.33" height="16" rx="4" fill="#fff" fill-opacity="0.6"/>
<g transform="translate(411.2,1551)"><path d="M 0,0 H 86.44 H 86.44 v 25 H 0 V 20 c 0,-10 -8,6 -8,-7.5 s 8,2.5 8,-7.5 z" fill="#ad164d" transform="translate(0.6,0.6)"/><path d="M 0,0 H 86.44 H 86.44 v 25 H 0 V 20 c 0,-10 -8,6 -8,-7.5 s 8,2.5 8,-7.5 z" fill="#D81B60"/><path d="M 0.5,0.5 H 85.94 M 0.5,24.5 V 18.5 M 0.5,8 V 0.5 H 1" fill="none" stroke="#fceff4" stroke-width="1" stroke-linecap="round"/><path d="M -7.4,19 q -2.2,-6.4 0,-12.8" fill="none" stroke="#fceff4" stroke-width="1.25" stroke-linecap="round"/></g>
<rect x="432.09" y="1557" width="46.67" height="16" rx="4" fill="#fff" fill-opacity="0.6"/>
<g transform="translate(411.2,1577)"><path d="M 0,0 H 53.84 H 53.84 v 25 H 0 V 20 c 0,-10 -8,6 -8,-7.5 s 8,2.5 8,-7.5 z" fill="#ad164d" transform="translate(0.6,0.6)"/><path d="M 0,0 H 53.84 H 53.84 v 25 H 0 V 20 c 0,-10 -8,6 -8,-7.5 s 8,2.5 8,-7.5 z" fill="#D81B60"/><path d="M 0.5,0.5 H 53.34 M 0.5,24.5 V 18.5 M 0.5,8 V 0.5 H 1" fill="none" stroke="#fceff4" stroke-width="1" stroke-linecap="round"/><path d="M -7.4,19 q -2.2,-6.4 0,-12.8" fill="none" stroke="#fceff4" stroke-width="1.25" stroke-linecap="round"/></g>
<rect x="432.09" y="1583" width="14.07" height="16" rx="4" fill="#fff" fill-opacity="0.6"/>
<g transform="translate(411.2,1603)"><path d="M 0,0 H 61.27 H 61.27 v 25 H 0 V 20 c 0,-10 -8,6 -8,-7.5 s 8,2.5 8,-7.5 z" fill="#368039" transform="translate(0.6,0.6)"/><path d="M 0,0 H 61.27 H 61.27 v 25 H 0 V 20 c 0,-10 -8,6 -8,-7.5 s 8,2.5 8,-7.5 z" fill="#43A047"/><path d="M 0.5,0.5 H 60.77 M 0.5,24.5 V 18.5 M 0.5,8 V 0.5 H 1" fill="none" stroke="#f2f8f2" stroke-width="1" stroke-linecap="round"/><path d="M -7.4,19 q -2.2,-6.4 0,-12.8" fill="none" stroke="#f2f8f2" stroke-width="1.25" stroke-linecap="round"/></g>
<rect x="417.2" y="1609" width="51.27" height="16" rx="4" fill="#fff" fill-opacity="0.6"/>
<path d="M 455.27,1614.8 h 5.6 l -2.8,4.4 z" fill="#43A047"/>
<g transform="translate(37,1691)"><path d="M 0,8 A 8,8 0 0,1 8,0 H 250.84 H 250.84 v 25 H 250.84 v 25 H 66.31 l -6,4 -3,0 -6,-4 h -7 a 8,8 0 0,0 -8,8 v 581 a 8,8 0 0,0 8,8 H 250.84 v 10 H 8 a 8,8 0 0,1 -8,-8 z" fill="#FFA726" transform="translate(0.6,0.6)"/><path d="M 0,8 A 8,8 0 0,1 8,0 H 250.84 H 250.84 v 25 H 250.84 v 25 H 66.31 l -6,4 -3,0 -6,-4 h -7 a 8,8 0 0,0 -8,8 v 581 a 8,8 0 0,0 8,8 H 250.84 v 10 H 8 a 8,8 0 0,1 -8,-8 z" fill="#FFA726"/><path d="M 38.3,645.01 a 8.5,8.5 0 0,0 6.01,2.49 H 250.34" fill="none" stroke="#fff9f0" stroke-width="1" stroke-linecap="round"/><path d="M 0,649 V 8 A 8,8 0 0,1 8,0 H 250.84" fill="none" stroke="#fff" stroke-width="2"/><rect x="-1" y="8" width="2" height="651" fill="#fff"/></g>
<rect x="92.14" y="1696.6" width="80.61" height="16" rx="4" fill="#fff" fill-opacity="0.6"/>
<path d="M 159.55,1702.4 h 5.6 l -2.8,4.4 z" fill="#FFA726"/>
<rect x="57.07" y="1721.6" width="52.4" height="16" rx="4" fill="#de8f6c"/>
<g transform="translate(74.31,1742)"><path d="M 0,8 A 8,8 0 0,1 8,0 H 15 l 6,4 3,0 6,-4 H 78.95 H 78.95 v 5 c 0,10 -8,-6 -8,7.5 s 8,-2.5 8,7.5 v 16 H 78.95 l -6,4 -3,0 -6,-4 h -7 a 8,8 0 0,0 -8,8 v 531 a 8,8 0 0,0 8,8 H 78.95 v 10 H 30 l -6,4 -3,0 -6,-4 H 8 a 8,8 0 0,1 -8,-8 z" fill="#cc8900" transform="translate(0.6,0.6)"/><path d="M 0,8 A 8,8 0 0,1 8,0 H 15 l 6,4 3,0 6,-4 H 78.95 H 78.95 v 5 c 0,10 -8,-6 -8,7.5 s 8,-2.5 8,7.5 v 16 H 78.95 l -6,4 -3,0 -6,-4 h -7 a 8,8 0 0,0 -8,8 v 531 a 8,8 0 0,0 8,8 H 78.95 v 10 H 30 l -6,4 -3,0 -6,-4 H 8 a 8,8 0 0,1 -8,-8 z" fill="#FFAB00"/><path d="M 0.5,7.5 A 7.5,7.5 0 0,1 8,0.5 H 15 l 6,4 3,0 6,-4 H 78.45 M 2.7,590.3 A 7.5,7.5 0 0,1 0.5,585 V 8 M 73.95,19.3 l 3.68,-2.1 M 50.94,581.01 a 8.5,8.5 0 0,0 6.01,2.49 H 78.45" fill="none" stroke="#fff9ed" stroke-width="1" stroke-linecap="round"/></g>
<g transform="translate(84.91,1747.5)"><rect x="0.5" y="0.5" width="16" height="16" rx="4" fill="#00f" stroke="#fff" opacity="0.6"/><path transform="translate(0.5,0.5)" fill="#fff" fill-opacity="0.88" fill-rule="evenodd" stroke="#fff" stroke-opacity="0.5" stroke-width="0.5" d="m4.203,7.296 0,1.368 -0.92,0.677 -0.11,0.41 0.9,1.559 0.41,0.11 1.043,-0.457 1.187,0.683 0.127,1.134 0.3,0.3 1.8,0 0.3,-0.299 0.127,-1.138 1.185,-0.682 1.046,0.458 0.409,-0.11 0.9,-1.559 -0.11,-0.41 -0.92,-0.677 0,-1.366 0.92,-0.677 0.11,-0.41 -0.9,-1.559 -0.409,-0.109 -1.046,0.458 -1.185,-0.682 -0.127,-1.138 -0.3,-0.299 -1.8,0 -0.3,0.3 -0.126,1.135 -1.187,0.682 -1.043,-0.457 -0.41,0.11 -0.899,1.559 0.108,0.409z M 10.3,8 a 2.3,2.3 0 1,0 -4.6,0 a 2.3,2.3 0 1,0 4.6,0 z"/></g>
<g transform="translate(154.26,1742)"><path d="M 0,0 H 276.79 V 36 H 0 V 20 c 0,-10 -8,6 -8,-7.5 s 8,2.5 8,-7.5 z" fill="#368039" transform="translate(0.6,0.6)"/><path d="M 0,0 H 276.79 V 36 H 0 V 20 c 0,-10 -8,6 -8,-7.5 s 8,2.5 8,-7.5 z" fill="#43A047"/><path d="M 0.5,35.5 V 18.5 M 0.5,8 V 0.5 H 276.29" fill="none" stroke="#f2f8f2" stroke-width="1" stroke-linecap="round"/><path d="M -7.4,19 q -2.2,-6.4 0,-12.8" fill="none" stroke="#f2f8f2" stroke-width="1.25" stroke-linecap="round"/></g>
<path d="M 281.54,1747.5 v 26.5 h -109.78" fill="none" stroke="#f2f8f2"/>
<g transform="translate(171.26,1748)"><path d="M 0,0 H 108.78 H 108.78 v 25 H 0 V 20 c 0,-10 -8,6 -8,-7.5 s 8,2.5 8,-7.5 z" fill="#c34118" transform="translate(0.6,0.6)"/><path d="M 0,0 H 108.78 H 108.78 v 25 H 0 V 20 c 0,-10 -8,6 -8,-7.5 s 8,2.5 8,-7.5 z" fill="#F4511E"/><path d="M 0.5,0.5 H 108.28 M 0.5,24.5 V 18.5 M 0.5,8 V 0.5 H 1" fill="none" stroke="#fef3ef" stroke-width="1" stroke-linecap="round"/><path d="M -7.4,19 q -2.2,-6.4 0,-12.8" fill="none" stroke="#fef3ef" stroke-width="1.25" stroke-linecap="round"/></g>
<rect x="207.65" y="1753.6" width="68.4" height="16" rx="4" fill="#fff" fill-opacity="0.6"/>
<path d="M 262.84,1759.4 h 5.6 l -2.8,4.4 z" fill="#F4511E"/>
<rect x="287.34" y="1753.1" width="34.57" height="16" rx="4" fill="#fff" fill-opacity="0.6"/>
<path d="M 308.71,1758.9 h 5.6 l -2.8,4.4 z" fill="#43A047"/>
<path d="M 421.55,1747.5 v 26.5 h -87.44" fill="none" stroke="#f2f8f2"/>
<g transform="translate(333.61,1748)"><path d="M 0,0 H 86.44 H 86.44 v 25 H 0 V 20 c 0,-10 -8,6 -8,-7.5 s 8,2.5 8,-7.5 z" fill="#ad164d" transform="translate(0.6,0.6)"/><path d="M 0,0 H 86.44 H 86.44 v 25 H 0 V 20 c 0,-10 -8,6 -8,-7.5 s 8,2.5 8,-7.5 z" fill="#D81B60"/><path d="M 0.5,0.5 H 85.94 M 0.5,24.5 V 18.5 M 0.5,8 V 0.5 H 1" fill="none" stroke="#fceff4" stroke-width="1" stroke-linecap="round"/><path d="M -7.4,19 q -2.2,-6.4 0,-12.8" fill="none" stroke="#fceff4" stroke-width="1.25" stroke-linecap="round"/></g>
<rect x="354.49" y="1753.6" width="46.67" height="16" rx="4" fill="#fff" fill-opacity="0.6"/>
<g transform="translate(124.26,1779)"><path d="M 0,8 A 8,8 0 0,1 8,0 H 15 l 6,4 3,0 6,-4 H 294.08 H 294.08 v 25 H 294.08 v 5 c 0,10 -8,-6 -8,7.5 s 8,-2.5 8,7.5 v 6 H 294.08 v 5 c 0,10 -8,-6 -8,7.5 s 8,-2.5 8,7.5 v 5 H 30 l -6,4 -3,0 -6,-4 H 0 z" fill="#4b2a8e" transform="translate(0.6,0.6)"/><path d="M 0,8 A 8,8 0 0,1 8,0 H 15 l 6,4 3,0 6,-4 H 294.08 H 294.08 v 25 H 294.08 v 5 c 0,10 -8,-6 -8,7.5 s 8,-2.5 8,7.5 v 6 H 294.08 v 5 c 0,10 -8,-6 -8,7.5 s 8,-2.5 8,7.5 v 5 H 30 l -6,4 -3,0 -6,-4 H 0 z" fill="#5E35B1"/><path d="M 0.5,7.5 A 7.5,7.5 0 0,1 8,0.5 H 15 l 6,4 3,0 6,-4 H 293.58 M 0.5,75.5 V 8 M 289.08,44.3 l 3.68,-2.1 M 289.08,70.3 l 3.68,-2.1" fill="none" stroke="#f4f1fa" stroke-width="1" stroke-linecap="round"/></g>
<rect x="166.34" y="1784.6" width="80.61" height="16" rx="4" fill="#fff" fill-opacity="0.6"/>
<path d="M 233.76,1790.4 h 5.6 l -2.8,4.4 z" fill="#5E35B1"/>
<g transform="translate(419.34,1804)"><path d="M 0,0 H 194.07 H 194.07 v 25 H 0 V 20 c 0,-10 -8,6 -8,-7.5 s 8,2.5 8,-7.5 z" fill="#ad164d" transform="translate(0.6,0.6)"/><path d="M 0,0 H 194.07 H 194.07 v 25 H 0 V 20 c 0,-10 -8,6 -8,-7.5 s 8,2.5 8,-7.5 z" fill="#D81B60"/><path d="M 0.5,0.5 H 193.57 M 0.5,24.5 V 18.5 M 0.5,8 V 0.5 H 1" fill="none" stroke="#fceff4" stroke-width="1" stroke-linecap="round"/><path d="M -7.4,19 q -2.2,-6.4 0,-12.8" fill="none" stroke="#fceff4" stroke-width="1.25" stroke-linecap="round"/></g>
<rect x="440.22" y="1809.6" width="154.3" height="16" rx="4" fill="#fff" fill-opacity="0.6"/>
<g transform="translate(419.34,1830)"><path d="M 0,0 H 118.25 H 118.25 v 25 H 0 V 20 c 0,-10 -8,6 -8,-7.5 s 8,2.5 8,-7.5 z" fill="#ad164d" transform="translate(0.6,0.6)"/><path d="M 0,0 H 118.25 H 118.25 v 25 H 0 V 20 c 0,-10 -8,6 -8,-7.5 s 8,2.5 8,-7.5 z" fill="#D81B60"/><path d="M 0.5,0.5 H 117.75 M 0.5,24.5 V 18.5 M 0.5,8 V 0.5 H 1" fill="none" stroke="#fceff4" stroke-width="1" stroke-linecap="round"/><path d="M -7.4,19 q -2.2,-6.4 0,-12.8" fill="none" stroke="#fceff4" stroke-width="1.25" stroke-linecap="round"/></g>
<rect x="440.22" y="1835.6" width="78.49" height="16" rx="4" fill="#fff" fill-opacity="0.6"/>
<g transform="translate(124.26,1856)"><path d="M 0,0 H 15 l 6,4 3,0 6,-4 H 78.95 H 78.95 v 5 c 0,10 -8,-6 -8,7.5 s 8,-2.5 8,7.5 v 5 H 78.95 l -6,4 -3,0 -6,-4 h -7 a 8,8 0 0,0 -8,8 v 195 a 8,8 0 0,0 8,8 H 78.95 v 10 H 78.95 l -6,4 -3,0 -6,-4 h -7 a 8,8 0 0,0 -8,8 v 168 a 8,8 0 0,0 8,8 H 78.95 v 10 H 30 l -6,4 -3,0 -6,-4 H 0 z" fill="#cc8900" transform="translate(0.6,0.6)"/><path d="M 0,0 H 15 l 6,4 3,0 6,-4 H 78.95 H 78.95 v 5 c 0,10 -8,-6 -8,7.5 s 8,-2.5 8,7.5 v 5 H 78.95 l -6,4 -3,0 -6,-4 h -7 a 8,8 0 0,0 -8,8 v 195 a 8,8 0 0,0 8,8 H 78.95 v 10 H 78.95 l -6,4 -3,0 -6,-4 h -7 a 8,8 0 0,0 -8,8 v 168 a 8,8 0 0,0 8,8 H 78.95 v 10 H 30 l -6,4 -3,0 -6,-4 H 0 z" fill="#FFAB00"/><path d="M 0.5,0.5 H 15 l 6,4 3,0 6,-4 H 78.45 M 0.5,439.5 V 0.5 M 73.95,19.3 l 3.68,-2.1 M 50.94,234.01 a 8.5,8.5 0 0,0 6.01,2.49 H 78.45 M 50.94,428.01 a 8.5,8.5 0 0,0 6.01,2.49 H 78.45" fill="none" stroke="#fff9ed" stroke-width="1" stroke-linecap="round"/></g>
<g transform="translate(134.86,1861.5)"><rect x="0.5" y="0.5" width="16" height="16" rx="4" fill="#00f" stroke="#fff" opacity="0.6"/><path transform="translate(0.5,0.5)" fill="#fff" fill-opacity="0.88" fill-rule="evenodd" stroke="#fff" stroke-opacity="0.5" stroke-width="0.5" d="m4.203,7.296 0,1.368 -0.92,0.677 -0.11,0.41 0.9,1.559 0.41,0.11 1.043,-0.457 1.187,0.683 0.127,1.134 0.3,0.3 1.8,0 0.3,-0.299 0.127,-1.138 1.185,-0.682 1.046,0.458 0.409,-0.11 0.9,-1.559 -0.11,-0.41 -0.92,-0.677 0,-1.366 0.92,-0.677 0.11,-0.41 -0.9,-1.559 -0.409,-0.109 -1.046,0.458 -1.185,-0.682 -0.127,-1.138 -0.3,-0.299 -1.8,0 -0.3,0.3 -0.126,1.135 -1.187,0.682 -1.043,-0.457 -0.41,0.11 -0.899,1.559 0.108,0.409z M 10.3,8 a 2.3,2.3 0 1,0 -4.6,0 a 2.3,2.3 0 1,0 4.6,0 z"/></g>
<g transform="translate(204.21,1856)"><path d="M 0,0 H 48.59 H 48.59 v 5 c 0,10 -8,-6 -8,7.5 s 8,-2.5 8,7.5 v 5 H 0 V 20 c 0,-10 -8,6 -8,-7.5 s 8,2.5 8,-7.5 z" fill="#368039" transform="translate(0.6,0.6)"/><path d="M 0,0 H 48.59 H 48.59 v 5 c 0,10 -8,-6 -8,7.5 s 8,-2.5 8,7.5 v 5 H 0 V 20 c 0,-10 -8,6 -8,-7.5 s 8,2.5 8,-7.5 z" fill="#43A047"/><path d="M 0.5,0.5 H 48.09 M 0.5,24.5 V 18.5 M 0.5,8 V 0.5 H 1 M 43.59,19.3 l 3.68,-2.1" fill="none" stroke="#f2f8f2" stroke-width="1" stroke-linecap="round"/><path d="M -7.4,19 q -2.2,-6.4 0,-12.8" fill="none" stroke="#f2f8f2" stroke-width="1.25" stroke-linecap="round"/></g>
<g transform="translate(253.79,1856)"><path d="M 0,0 H 82.81 H 82.81 v 5 c 0,10 -8,-6 -8,7.5 s 8,-2.5 8,7.5 v 5 H 0 V 20 c 0,-10 -8,6 -8,-7.5 s 8,2.5 8,-7.5 z" fill="#ad164d" transform="translate(0.6,0.6)"/><path d="M 0,0 H 82.81 H 82.81 v 5 c 0,10 -8,-6 -8,7.5 s 8,-2.5 8,7.5 v 5 H 0 V 20 c 0,-10 -8,6 -8,-7.5 s 8,2.5 8,-7.5 z" fill="#D81B60"/><path d="M 0.5,0.5 H 82.31 M 0.5,24.5 V 18.5 M 0.5,8 V 0.5 H 1 M 77.81,19.3 l 3.68,-2.1" fill="none" stroke="#fceff4" stroke-width="1" stroke-linecap="round"/><path d="M -7.4,19 q -2.2,-6.4 0,-12.8" fill="none" stroke="#fceff4" stroke-width="1.25" stroke-linecap="round"/></g>
<g transform="translate(337.6,1856)"><path d="M 0,0 H 208.44 H 208.44 v 25 H 0 V 20 c 0,-10 -8,6 -8,-7.5 s 8,2.5 8,-7.5 z" fill="#4b2a8e" transform="translate(0.6,0.6)"/><path d="M 0,0 H 208.44 H 208.44 v 25 H 0 V 20 c 0,-10 -8,6 -8,-7.5 s 8,2.5 8,-7.5 z" fill="#5E35B1"/><path d="M 0.5,0.5 H 207.94 M 0.5,24.5 V 18.5 M 0.5,8 V 0.5 H 1" fill="none" stroke="#f4f1fa" stroke-width="1" stroke-linecap="round"/><path d="M -7.4,19 q -2.2,-6.4 0,-12.8" fill="none" stroke="#f4f1fa" stroke-width="1.25" stroke-linecap="round"/></g>
<rect x="379.68" y="1861.6" width="89.85" height="16" rx="4" fill="#fff" fill-opacity="0.6"/>
<path d="M 456.34,1867.4 h 5.6 l -2.8,4.4 z" fill="#5E35B1"/>
<g transform="translate(174.21,1882)"><path d="M 0,8 A 8,8 0 0,1 8,0 H 15 l 6,4 3,0 6,-4 H 188.79 H 188.79 v 5 c 0,10 -8,-6 -8,7.5 s 8,-2.5 8,7.5 v 57 H 188.79 v 5 c 0,10 -8,-6 -8,7.5 s 8,-2.5 8,7.5 v 109 H 30 l -6,4 -3,0 -6,-4 H 8 a 8,8 0 0,1 -8,-8 z" fill="#027cb7" transform="translate(0.6,0.6)"/><path d="M 0,8 A 8,8 0 0,1 8,0 H 15 l 6,4 3,0 6,-4 H 188.79 H 188.79 v 5 c 0,10 -8,-6 -8,7.5 s 8,-2.5 8,7.5 v 57 H 188.79 v 5 c 0,10 -8,-6 -8,7.5 s 8,-2.5 8,7.5 v 109 H 30 l -6,4 -3,0 -6,-4 H 8 a 8,8 0 0,1 -8,-8 z" fill="#039BE5"/><path d="M 0.5,7.5 A 7.5,7.5 0 0,1 8,0.5 H 15 l 6,4 3,0 6,-4 H 188.29 M 2.7,203.3 A 7.5,7.5 0 0,1 0.5,198 V 8 M 183.79,19.3 l 3.68,-2.1 M 183.79,96.3 l 3.68,-2.1" fill="none" stroke="#edf8fd" stroke-width="1" stroke-linecap="round"/></g>
<g transform="translate(184.81,1887.5)"><rect x="0.5" y="0.5" width="16" height="16" rx="4" fill="#00f" stroke="#fff" opacity="0.6"/><path transform="translate(0.5,0.5)" fill="#fff" fill-opacity="0.88" fill-rule="evenodd" stroke="#fff" stroke-opacity="0.5" stroke-width="0.5" d="m4.203,7.296 0,1.368 -0.92,0.677 -0.11,0.41 0.9,1.559 0.41,0.11 1.043,-0.457 1.187,0.683 0.127,1.134 0.3,0.3 1.8,0 0.3,-0.299 0.127,-1.138 1.185,-0.682 1.046,0.458 0.409,-0.11 0.9,-1.559 -0.11,-0.41 -0.92,-0.677 0,-1.366 0.92,-0.677 0.11,-0.41 -0.9,-1.559 -0.409,-0.109 -1.046,0.458 -1.185,-0.682 -0.127,-1.138 -0.3,-0.299 -1.8,0 -0.3,0.3 -0.126,1.135 -1.187,0.682 -1.043,-0.457 -0.41,0.11 -0.899,1.559 0.108,0.409z M 10.3,8 a 2.3,2.3 0 1,0 -4.6,0 a 2.3,2.3 0 1,0 4.6,0 z"/></g>
<g transform="translate(364,1882)"><path d="M 0,0 H 222.35 H 222.35 v 25 H 222.35 v 5 c 0,10 -8,-6 -8,7.5 s 8,-2.5 8,7.5 v 6 H 222.35 v 5 c 0,10 -8,-6 -8,7.5 s 8,-2.5 8,7.5 v 5 H 0 V 20 c 0,-10 -8,6 -8,-7.5 s 8,2.5 8,-7.5 z" fill="#4b2a8e" transform="translate(0.6,0.6)"/><path d="M 0,0 H 222.35 H 222.35 v 25 H 222.35 v 5 c 0,10 -8,-6 -8,7.5 s 8,-2.5 8,7.5 v 6 H 222.35 v 5 c 0,10 -8,-6 -8,7.5 s 8,-2.5 8,7.5 v 5 H 0 V 20 c 0,-10 -8,6 -8,-7.5 s 8,2.5 8,-7.5 z" fill="#5E35B1"/><path d="M 0.5,0.5 H 221.85 M 0.5,75.5 V 18.5 M 0.5,8 V 0.5 H 1 M 217.35,44.3 l 3.68,-2.1 M 217.35,70.3 l 3.68,-2.1" fill="none" stroke="#f4f1fa" stroke-width="1" stroke-linecap="round"/><path d="M -7.4,19 q -2.2,-6.4 0,-12.8" fill="none" stroke="#f4f1fa" stroke-width="1.25" stroke-linecap="round"/></g>
<rect x="406.08" y="1887.6" width="89.85" height="16" rx="4" fill="#fff" fill-opacity="0.6"/>
<path d="M 482.73,1893.4 h 5.6 l -2.8,4.4 z" fill="#5E35B1"/>
<g transform="translate(587.35,1907)"><path d="M 0,0 H 88.08 H 88.08 v 25 H 0 V 20 c 0,-10 -8,6 -8,-7.5 s 8,2.5 8,-7.5 z" fill="#ad164d" transform="translate(0.6,0.6)"/><path d="M 0,0 H 88.08 H 88.08 v 25 H 0 V 20 c 0,-10 -8,6 -8,-7.5 s 8,2.5 8,-7.5 z" fill="#D81B60"/><path d="M 0.5,0.5 H 87.58 M 0.5,24.5 V 18.5 M 0.5,8 V 0.5 H 1" fill="none" stroke="#fceff4" stroke-width="1" stroke-linecap="round"/><path d="M -7.4,19 q -2.2,-6.4 0,-12.8" fill="none" stroke="#fceff4" stroke-width="1.25" stroke-linecap="round"/></g>
<rect x="608.23" y="1912.6" width="48.31" height="16" rx="4" fill="#fff" fill-opacity="0.6"/>
<g transform="translate(587.35,1933)"><path d="M 0,0 H 53.84 H 53.84 v 25 H 0 V 20 c 0,-10 -8,6 -8,-7.5 s 8,2.5 8,-7.5 z" fill="#ad164d" transform="translate(0.6,0.6)"/><path d="M 0,0 H 53.84 H 53.84 v 25 H 0 V 20 c 0,-10 -8,6 -8,-7.5 s 8,2.5 8,-7.5 z" fill="#D81B60"/><path d="M 0.5,0.5 H 53.34 M 0.5,24.5 V 18.5 M 0.5,8 V 0.5 H 1" fill="none" stroke="#fceff4" stroke-width="1" stroke-linecap="round"/><path d="M -7.4,19 q -2.2,-6.4 0,-12.8" fill="none" stroke="#fceff4" stroke-width="1.25" stroke-linecap="round"/></g>
<rect x="608.23" y="1938.6" width="14.07" height="16" rx="4" fill="#fff" fill-opacity="0.6"/>
<g transform="translate(364,1959)"><path d="M 0,0 H 151.7 H 151.7 v 5 c 0,10 -8,-6 -8,7.5 s 8,-2.5 8,7.5 v 6 H 151.7 v 5 c 0,10 -8,-6 -8,7.5 s 8,-2.5 8,7.5 v 6 H 151.7 v 5 c 0,10 -8,-6 -8,7.5 s 8,-2.5 8,7.5 v 6 H 151.7 v 5 c 0,10 -8,-6 -8,7.5 s 8,-2.5 8,7.5 v 6 H 151.7 v 5 c 0,10 -8,-6 -8,7.5 s 8,-2.5 8,7.5 v 5 H 0 V 20 c 0,-10 -8,6 -8,-7.5 s 8,2.5 8,-7.5 z" fill="#027cb7" transform="translate(0.6,0.6)"/><path d="M 0,0 H 151.7 H 151.7 v 5 c 0,10 -8,-6 -8,7.5 s 8,-2.5 8,7.5 v 6 H 151.7 v 5 c 0,10 -8,-6 -8,7.5 s 8,-2.5 8,7.5 v 6 H 151.7 v 5 c 0,10 -8,-6 -8,7.5 s 8,-2.5 8,7.5 v 6 H 151.7 v 5 c 0,10 -8,-6 -8,7.5 s 8,-2.5 8,7.5 v 6 H 151.7 v 5 c 0,10 -8,-6 -8,7.5 s 8,-2.5 8,7.5 v 5 H 0 V 20 c 0,-10 -8,6 -8,-7.5 s 8,2.5 8,-7.5 z" fill="#039BE5"/><path d="M 0.5,0.5 H 151.2 M 0.5,128.5 V 18.5 M 0.5,8 V 0.5 H 1 M 146.7,19.3 l 3.68,-2.1 M 146.7,45.3 l 3.68,-2.1 M 146.7,71.3 l 3.68,-2.1 M 146.7,97.3 l 3.68,-2.1 M 146.7,123.3 l 3.68,-2.1" fill="none" stroke="#edf8fd" stroke-width="1" stroke-linecap="round"/><path d="M -7.4,19 q -2.2,-6.4 0,-12.8" fill="none" stroke="#edf8fd" stroke-width="1.25" stroke-linecap="round"/></g>
<g transform="translate(374.6,1964.5)"><rect x="0.5" y="0.5" width="16" height="16" rx="4" fill="#00f" stroke="#fff" opacity="0.6"/><path transform="translate(0.5,0.5)" fill="#fff" fill-opacity="0.88" fill-rule="evenodd" stroke="#fff" stroke-opacity="0.5" stroke-width="0.5" d="m4.203,7.296 0,1.368 -0.92,0.677 -0.11,0.41 0.9,1.559 0.41,0.11 1.043,-0.457 1.187,0.683 0.127,1.134 0.3,0.3 1.8,0 0.3,-0.299 0.127,-1.138 1.185,-0.682 1.046,0.458 0.409,-0.11 0.9,-1.559 -0.11,-0.41 -0.92,-0.677 0,-1.366 0.92,-0.677 0.11,-0.41 -0.9,-1.559 -0.409,-0.109 -1.046,0.458 -1.185,-0.682 -0.127,-1.138 -0.3,-0.299 -1.8,0 -0.3,0.3 -0.126,1.135 -1.187,0.682 -1.043,-0.457 -0.41,0.11 -0.899,1.559 0.108,0.409z M 10.3,8 a 2.3,2.3 0 1,0 -4.6,0 a 2.3,2.3 0 1,0 4.6,0 z"/></g>
<g transform="translate(401.3,1964.5)" opacity="0.6"><circle cx="8.5" cy="8.5" r="8" fill="#00f" stroke="#fff"/></g>
<g transform="translate(516.7,1959)"><path d="M 0,0 H 277.56 H 277.56 v 25 H 0 V 20 c 0,-10 -8,6 -8,-7.5 s 8,2.5 8,-7.5 z" fill="#c34118" transform="translate(0.6,0.6)"/><path d="M 0,0 H 277.56 H 277.56 v 25 H 0 V 20 c 0,-10 -8,6 -8,-7.5 s 8,2.5 8,-7.5 z" fill="#F4511E"/><path d="M 0.5,0.5 H 277.06 M 0.5,24.5 V 18.5 M 0.5,8 V 0.5 H 1" fill="none" stroke="#fef3ef" stroke-width="1" stroke-linecap="round"/><path d="M -7.4,19 q -2.2,-6.4 0,-12.8" fill="none" stroke="#fef3ef" stroke-width="1.25" stroke-linecap="round"/></g>
<rect x="553.08" y="1964.6" width="237.17" height="16" rx="4" fill="#fff" fill-opacity="0.6"/>
<path d="M 777.06,1970.4 h 5.6 l -2.8,4.4 z" fill="#F4511E"/>
<g transform="translate(516.7,1985)"><path d="M 0,0 H 205.83 H 205.83 v 25 H 0 V 20 c 0,-10 -8,6 -8,-7.5 s 8,2.5 8,-7.5 z" fill="#c34118" transform="translate(0.6,0.6)"/><path d="M 0,0 H 205.83 H 205.83 v 25 H 0 V 20 c 0,-10 -8,6 -8,-7.5 s 8,2.5 8,-7.5 z" fill="#F4511E"/><path d="M 0.5,0.5 H 205.33 M 0.5,24.5 V 18.5 M 0.5,8 V 0.5 H 1" fill="none" stroke="#fef3ef" stroke-width="1" stroke-linecap="round"/><path d="M -7.4,19 q -2.2,-6.4 0,-12.8" fill="none" stroke="#fef3ef" stroke-width="1.25" stroke-linecap="round"/></g>
<rect x="553.08" y="1990.6" width="165.44" height="16" rx="4" fill="#fff" fill-opacity="0.6"/>
<path d="M 705.33,1996.4 h 5.6 l -2.8,4.4 z" fill="#F4511E"/>
<g transform="translate(516.7,2011)"><path d="M 0,0 H 205.83 H 205.83 v 25 H 0 V 20 c 0,-10 -8,6 -8,-7.5 s 8,2.5 8,-7.5 z" fill="#c34118" transform="translate(0.6,0.6)"/><path d="M 0,0 H 205.83 H 205.83 v 25 H 0 V 20 c 0,-10 -8,6 -8,-7.5 s 8,2.5 8,-7.5 z" fill="#F4511E"/><path d="M 0.5,0.5 H 205.33 M 0.5,24.5 V 18.5 M 0.5,8 V 0.5 H 1" fill="none" stroke="#fef3ef" stroke-width="1" stroke-linecap="round"/><path d="M -7.4,19 q -2.2,-6.4 0,-12.8" fill="none" stroke="#fef3ef" stroke-width="1.25" stroke-linecap="round"/></g>
<rect x="553.08" y="2016.6" width="165.44" height="16" rx="4" fill="#fff" fill-opacity="0.6"/>
<path d="M 705.33,2022.4 h 5.6 l -2.8,4.4 z" fill="#F4511E"/>
<g transform="translate(516.7,2037)"><path d="M 0,0 H 28.16 H 28.16 v 25 H 0 V 20 c 0,-10 -8,6 -8,-7.5 s 8,2.5 8,-7.5 z" fill="#324191" transform="translate(0.6,0.6)"/><path d="M 0,0 H 28.16 H 28.16 v 25 H 0 V 20 c 0,-10 -8,6 -8,-7.5 s 8,2.5 8,-7.5 z" fill="#3F51B5"/><path d="M 0.5,0.5 H 27.66 M 0.5,24.5 V 18.5 M 0.5,8 V 0.5 H 1" fill="none" stroke="#f2f3fa" stroke-width="1" stroke-linecap="round"/><path d="M -7.4,19 q -2.2,-6.4 0,-12.8" fill="none" stroke="#f2f3fa" stroke-width="1.25" stroke-linecap="round"/></g>
<rect x="522.7" y="2042.6" width="18.16" height="16" rx="4" fill="#fff" fill-opacity="0.6"/>
<g transform="translate(516.7,2063)"><path d="M 0,0 H 28.16 H 28.16 v 25 H 0 V 20 c 0,-10 -8,6 -8,-7.5 s 8,2.5 8,-7.5 z" fill="#324191" transform="translate(0.6,0.6)"/><path d="M 0,0 H 28.16 H 28.16 v 25 H 0 V 20 c 0,-10 -8,6 -8,-7.5 s 8,2.5 8,-7.5 z" fill="#3F51B5"/><path d="M 0.5,0.5 H 27.66 M 0.5,24.5 V 18.5 M 0.5,8 V 0.5 H 1" fill="none" stroke="#f2f3fa" stroke-width="1" stroke-linecap="round"/><path d="M -7.4,19 q -2.2,-6.4 0,-12.8" fill="none" stroke="#f2f3fa" stroke-width="1.25" stroke-linecap="round"/></g>
<rect x="522.7" y="2068.6" width="18.16" height="16" rx="4" fill="#fff" fill-opacity="0.6"/>
<g transform="translate(174.21,2103)"><path d="M 0,8 A 8,8 0 0,1 8,0 H 15 l 6,4 3,0 6,-4 H 233.76 H 233.76 v 25 H 233.76 v 5 c 0,10 -8,-6 -8,7.5 s 8,-2.5 8,7.5 v 6 H 233.76 v 5 c 0,10 -8,-6 -8,7.5 s 8,-2.5 8,7.5 v 109 H 30 l -6,4 -3,0 -6,-4 H 8 a 8,8 0 0,1 -8,-8 z" fill="#4b2a8e" transform="translate(0.6,0.6)"/><path d="M 0,8 A 8,8 0 0,1 8,0 H 15 l 6,4 3,0 6,-4 H 233.76 H 233.76 v 25 H 233.76 v 5 c 0,10 -8,-6 -8,7.5 s 8,-2.5 8,7.5 v 6 H 233.76 v 5 c 0,10 -8,-6 -8,7.5 s 8,-2.5 8,7.5 v 109 H 30 l -6,4 -3,0 -6,-4 H 8 a 8,8 0 0,1 -8,-8 z" fill="#5E35B1"/><path d="M 0.5,7.5 A 7.5,7.5 0 0,1 8,0.5 H 15 l 6,4 3,0 6,-4 H 233.26 M 2.7,177.3 A 7.5,7.5 0 0,1 0.5,172 V 8 M 228.76,44.3 l 3.68,-2.1 M 228.76,70.3 l 3.68,-2.1" fill="none" stroke="#f4f1fa" stroke-width="1" stroke-linecap="round"/></g>
<rect x="216.29" y="2108.6" width="89.85" height="16" rx="4" fill="#fff" fill-opacity="0.6"/>
<path d="M 292.94,2114.4 h 5.6 l -2.8,4.4 z" fill="#5E35B1"/>
<g transform="translate(408.97,2128)"><path d="M 0,0 H 88.08 H 88.08 v 25 H 0 V 20 c 0,-10 -8,6 -8,-7.5 s 8,2.5 8,-7.5 z" fill="#ad164d" transform="translate(0.6,0.6)"/><path d="M 0,0 H 88.08 H 88.08 v 25 H 0 V 20 c 0,-10 -8,6 -8,-7.5 s 8,2.5 8,-7.5 z" fill="#D81B60"/><path d="M 0.5,0.5 H 87.58 M 0.5,24.5 V 18.5 M 0.5,8 V 0.5 H 1" fill="none" stroke="#fceff4" stroke-width="1" stroke-linecap="round"/><path d="M -7.4,19 q -2.2,-6.4 0,-12.8" fill="none" stroke="#fceff4" stroke-width="1.25" stroke-linecap="round"/></g>
<rect x="429.85" y="2133.6" width="48.31" height="16" rx="4" fill="#fff" fill-opacity="0.6"/>
<g transform="translate(408.97,2154)"><path d="M 0,0 H 125 H 125 v 5 c 0,10 -8,-6 -8,7.5 s 8,-2.5 8,7.5 v 109 H 0 V 20 c 0,-10 -8,6 -8,-7.5 s 8,2.5 8,-7.5 z" fill="#027cb7" transform="translate(0.6,0.6)"/><path d="M 0,0 H 125 H 125 v 5 c 0,10 -8,-6 -8,7.5 s 8,-2.5 8,7.5 v 109 H 0 V 20 c 0,-10 -8,6 -8,-7.5 s 8,2.5 8,-7.5 z" fill="#039BE5"/><path d="M 0.5,0.5 H 124.5 M 0.5,128.5 V 18.5 M 0.5,8 V 0.5 H 1 M 120,19.3 l 3.68,-2.1" fill="none" stroke="#edf8fd" stroke-width="1" stroke-linecap="round"/><path d="M -7.4,19 q -2.2,-6.4 0,-12.8" fill="none" stroke="#edf8fd" stroke-width="1.25" stroke-linecap="round"/></g>
<g transform="translate(419.57,2159.5)"><rect x="0.5" y="0.5" width="16" height="16" rx="4" fill="#00f" stroke="#fff" opacity="0.6"/><path transform="translate(0.5,0.5)" fill="#fff" fill-opacity="0.88" fill-rule="evenodd" stroke="#fff" stroke-opacity="0.5" stroke-width="0.5" d="m4.203,7.296 0,1.368 -0.92,0.677 -0.11,0.41 0.9,1.559 0.41,0.11 1.043,-0.457 1.187,0.683 0.127,1.134 0.3,0.3 1.8,0 0.3,-0.299 0.127,-1.138 1.185,-0.682 1.046,0.458 0.409,-0.11 0.9,-1.559 -0.11,-0.41 -0.92,-0.677 0,-1.366 0.92,-0.677 0.11,-0.41 -0.9,-1.559 -0.409,-0.109 -1.046,0.458 -1.185,-0.682 -0.127,-1.138 -0.3,-0.299 -1.8,0 -0.3,0.3 -0.126,1.135 -1.187,0.682 -1.043,-0.457 -0.41,0.11 -0.899,1.559 0.108,0.409z M 10.3,8 a 2.3,2.3 0 1,0 -4.6,0 a 2.3,2.3 0 1,0 4.6,0 z"/></g>
<g transform="translate(534.97,2154)"><path d="M 0,0 H 125 H 125 v 5 c 0,10 -8,-6 -8,7.5 s 8,-2.5 8,7.5 v 6 H 125 v 5 c 0,10 -8,-6 -8,7.5 s 8,-2.5 8,7.5 v 6 H 125 v 5 c 0,10 -8,-6 -8,7.5 s 8,-2.5 8,7.5 v 6 H 125 v 5 c 0,10 -8,-6 -8,7.5 s 8,-2.5 8,7.5 v 6 H 125 v 5 c 0,10 -8,-6 -8,7.5 s 8,-2.5 8,7.5 v 5 H 0 V 20 c 0,-10 -8,6 -8,-7.5 s 8,2.5 8,-7.5 z" fill="#027cb7" transform="translate(0.6,0.6)"/><path d="M 0,0 H 125 H 125 v 5 c 0,10 -8,-6 -8,7.5 s 8,-2.5 8,7.5 v 6 H 125 v 5 c 0,10 -8,-6 -8,7.5 s 8,-2.5 8,7.5 v 6 H 125 v 5 c 0,10 -8,-6 -8,7.5 s 8,-2.5 8,7.5 v 6 H 125 v 5 c 0,10 -8,-6 -8,7.5 s 8,-2.5 8,7.5 v 6 H 125 v 5 c 0,10 -8,-6 -8,7.5 s 8,-2.5 8,7.5 v 5 H 0 V 20 c 0,-10 -8,6 -8,-7.5 s 8,2.5 8,-7.5 z" fill="#039BE5"/><path d="M 0.5,0.5 H 124.5 M 0.5,128.5 V 18.5 M 0.5,8 V 0.5 H 1 M 120,19.3 l 3.68,-2.1 M 120,45.3 l 3.68,-2.1 M 120,71.3 l 3.68,-2.1 M 120,97.3 l 3.68,-2.1 M 120,123.3 l 3.68,-2.1" fill="none" stroke="#edf8fd" stroke-width="1" stroke-linecap="round"/><path d="M -7.4,19 q -2.2,-6.4 0,-12.8" fill="none" stroke="#edf8fd" stroke-width="1.25" stroke-linecap="round"/></g>
<g transform="translate(545.57,2159.5)"><rect x="0.5" y="0.5" width="16" height="16" rx="4" fill="#00f" stroke="#fff" opacity="0.6"/><path transform="translate(0.5,0.5)" fill="#fff" fill-opacity="0.88" fill-rule="evenodd" stroke="#fff" stroke-opacity="0.5" stroke-width="0.5" d="m4.203,7.296 0,1.368 -0.92,0.677 -0.11,0.41 0.9,1.559 0.41,0.11 1.043,-0.457 1.187,0.683 0.127,1.134 0.3,0.3 1.8,0 0.3,-0.299 0.127,-1.138 1.185,-0.682 1.046,0.458 0.409,-0.11 0.9,-1.559 -0.11,-0.41 -0.92,-0.677 0,-1.366 0.92,-0.677 0.11,-0.41 -0.9,-1.559 -0.409,-0.109 -1.046,0.458 -1.185,-0.682 -0.127,-1.138 -0.3,-0.299 -1.8,0 -0.3,0.3 -0.126,1.135 -1.187,0.682 -1.043,-0.457 -0.41,0.11 -0.899,1.559 0.108,0.409z M 10.3,8 a 2.3,2.3 0 1,0 -4.6,0 a 2.3,2.3 0 1,0 4.6,0 z"/></g>
<g transform="translate(660.96,2154)"><path d="M 0,0 H 277.56 H 277.56 v 25 H 0 V 20 c 0,-10 -8,6 -8,-7.5 s 8,2.5 8,-7.5 z" fill="#c34118" transform="translate(0.6,0.6)"/><path d="M 0,0 H 277.56 H 277.56 v 25 H 0 V 20 c 0,-10 -8,6 -8,-7.5 s 8,2.5 8,-7.5 z" fill="#F4511E"/><path d="M 0.5,0.5 H 277.06 M 0.5,24.5 V 18.5 M 0.5,8 V 0.5 H 1" fill="none" stroke="#fef3ef" stroke-width="1" stroke-linecap="round"/><path d="M -7.4,19 q -2.2,-6.4 0,-12.8" fill="none" stroke="#fef3ef" stroke-width="1.25" stroke-linecap="round"/></g>
<rect x="697.35" y="2159.6" width="237.17" height="16" rx="4" fill="#fff" fill-opacity="0.6"/>
<path d="M 921.32,2165.4 h 5.6 l -2.8,4.4 z" fill="#F4511E"/>
<g transform="translate(660.96,2180)"><path d="M 0,0 H 205.83 H 205.83 v 25 H 0 V 20 c 0,-10 -8,6 -8,-7.5 s 8,2.5 8,-7.5 z" fill="#c34118" transform="translate(0.6,0.6)"/><path d="M 0,0 H 205.83 H 205.83 v 25 H 0 V 20 c 0,-10 -8,6 -8,-7.5 s 8,2.5 8,-7.5 z" fill="#F4511E"/><path d="M 0.5,0.5 H 205.33 M 0.5,24.5 V 18.5 M 0.5,8 V 0.5 H 1" fill="none" stroke="#fef3ef" stroke-width="1" stroke-linecap="round"/><path d="M -7.4,19 q -2.2,-6.4 0,-12.8" fill="none" stroke="#fef3ef" stroke-width="1.25" stroke-linecap="round"/></g>
<rect x="697.35" y="2185.6" width="165.44" height="16" rx="4" fill="#fff" fill-opacity="0.6"/>
<path d="M 849.59,2191.4 h 5.6 l -2.8,4.4 z" fill="#F4511E"/>
<g transform="translate(660.96,2206)"><path d="M 0,0 H 205.83 H 205.83 v 25 H 0 V 20 c 0,-10 -8,6 -8,-7.5 s 8,2.5 8,-7.5 z" fill="#c34118" transform="translate(0.6,0.6)"/><path d="M 0,0 H 205.83 H 205.83 v 25 H 0 V 20 c 0,-10 -8,6 -8,-7.5 s 8,2.5 8,-7.5 z" fill="#F4511E"/><path d="M 0.5,0.5 H 205.33 M 0.5,24.5 V 18.5 M 0.5,8 V 0.5 H 1" fill="none" stroke="#fef3ef" stroke-width="1" stroke-linecap="round"/><path d="M -7.4,19 q -2.2,-6.4 0,-12.8" fill="none" stroke="#fef3ef" stroke-width="1.25" stroke-linecap="round"/></g>
<rect x="697.35" y="2211.6" width="165.44" height="16" rx="4" fill="#fff" fill-opacity="0.6"/>
<path d="M 849.59,2217.4 h 5.6 l -2.8,4.4 z" fill="#F4511E"/>
<g transform="translate(660.96,2232)"><path d="M 0,0 H 28.16 H 28.16 v 25 H 0 V 20 c 0,-10 -8,6 -8,-7.5 s 8,2.5 8,-7.5 z" fill="#324191" transform="translate(0.6,0.6)"/><path d="M 0,0 H 28.16 H 28.16 v 25 H 0 V 20 c 0,-10 -8,6 -8,-7.5 s 8,2.5 8,-7.5 z" fill="#3F51B5"/><path d="M 0.5,0.5 H 27.66 M 0.5,24.5 V 18.5 M 0.5,8 V 0.5 H 1" fill="none" stroke="#f2f3fa" stroke-width="1" stroke-linecap="round"/><path d="M -7.4,19 q -2.2,-6.4 0,-12.8" fill="none" stroke="#f2f3fa" stroke-width="1.25" stroke-linecap="round"/></g>
<rect x="666.96" y="2237.6" width="18.16" height="16" rx="4" fill="#fff" fill-opacity="0.6"/>
<g transform="translate(660.96,2258)"><path d="M 0,0 H 28.16 H 28.16 v 25 H 0 V 20 c 0,-10 -8,6 -8,-7.5 s 8,2.5 8,-7.5 z" fill="#324191" transform="translate(0.6,0.6)"/><path d="M 0,0 H 28.16 H 28.16 v 25 H 0 V 20 c 0,-10 -8,6 -8,-7.5 s 8,2.5 8,-7.5 z" fill="#3F51B5"/><path d="M 0.5,0.5 H 27.66 M 0.5,24.5 V 18.5 M 0.5,8 V 0.5 H 1" fill="none" stroke="#f2f3fa" stroke-width="1" stroke-linecap="round"/><path d="M -7.4,19 q -2.2,-6.4 0,-12.8" fill="none" stroke="#f2f3fa" stroke-width="1.25" stroke-linecap="round"/></g>
<rect x="666.96" y="2263.6" width="18.16" height="16" rx="4" fill="#fff" fill-opacity="0.6"/>
<g transform="translate(124.26,2297)"><path d="M 0,0 H 15 l 6,4 3,0 6,-4 H 300.52 H 300.52 v 25 H 30 l -6,4 -3,0 -6,-4 H 8 a 8,8 0 0,1 -8,-8 z" fill="#4b2a8e" transform="translate(0.6,0.6)"/><path d="M 0,0 H 15 l 6,4 3,0 6,-4 H 300.52 H 300.52 v 25 H 30 l -6,4 -3,0 -6,-4 H 8 a 8,8 0 0,1 -8,-8 z" fill="#5E35B1"/><path d="M 0.5,0.5 H 15 l 6,4 3,0 6,-4 H 300.02 M 2.7,22.3 A 7.5,7.5 0 0,1 0.5,17 V 0.5" fill="none" stroke="#f4f1fa" stroke-width="1" stroke-linecap="round"/></g>
<rect x="166.34" y="2302.6" width="80.61" height="16" rx="4" fill="#fff" fill-opacity="0.6"/>
<path d="M 233.76,2308.4 h 5.6 l -2.8,4.4 z" fill="#5E35B1"/>
<text x="52" y="50.1" class="w">when</text>
<text x="101.14" y="50.1" class="k">CrearPuntuaciones</text>
<text x="252.69" y="50.1" class="w">.Click</text>
<text x="52" y="75.1" class="w">do</text>
<text x="89.31" y="76.1" class="w">call</text>
<text x="125.4" y="76.1" class="k">Notifier1</text>
<text x="206.01" y="76.1" class="w">.Show Text Input Dialog</text>
<text x="348.32" y="101.1" class="w">id</text>
<text x="389.03" y="101.1" class="k">1000</text>
<text x="336.91" y="127.1" class="w">title</text>
<text x="389.33" y="124.9" class="qt">“</text>
<text x="403.92" y="127.1" class="k">Equipo 1</text>
<text x="472.12" y="124.9" class="qt">”</text>
<text x="284.99" y="153.1" class="w">default Text</text>
<text x="389.33" y="150.9" class="qt">“</text>
<text x="418.29" y="150.9" class="qt">”</text>
<text x="332.83" y="179.1" class="w">icon</text>
<text x="389.33" y="176.9" class="qt">“</text>
<text x="418.29" y="176.9" class="qt">”</text>
<text x="336.08" y="205.1" class="w">hint</text>
<text x="389.33" y="202.9" class="qt">“</text>
<text x="403.92" y="205.1" class="k"> ¿Cuál es el nombre de la puntuación?</text>
<text x="666.15" y="202.9" class="qt">”</text>
<text x="296.96" y="231.1" class="w">fullscreen</text>
<text x="389.03" y="231.1" class="k">false</text>
<text x="289.61" y="257.1" class="w">cancelable</text>
<text x="389.03" y="257.1" class="k">false</text>
<text x="292.32" y="283.1" class="w">input Type</text>
<text x="389.03" y="283.1" class="k">3</text>
<text x="288.25" y="309.1" class="w">button Text</text>
<text x="389.33" y="306.9" class="qt">“</text>
<text x="403.92" y="309.1" class="k">Continuar</text>
<text x="477.81" y="306.9" class="qt">”</text>
<text x="240.15" y="335.1" class="w">cancel Button Text</text>
<text x="389.33" y="332.9" class="qt">“</text>
<text x="403.92" y="335.1" class="k">Cancelar</text>
<text x="472.91" y="332.9" class="qt">”</text>
<text x="288.81" y="361.1" class="w">text Colour</text>
<text x="288.8" y="387.1" class="w">hint Colour</text>
<text x="89.31" y="413.1" class="w">call</text>
<text x="125.4" y="413.1" class="k">Principal</text>
<text x="207.64" y="413.1" class="w">.Show Keyboard</text>
<text x="48" y="469.6" class="w">when</text>
<text x="97.14" y="469.6" class="k">Notifier1</text>
<text x="177.75" y="469.6" class="w">.Got Text Input From Dialog</text>
<text x="62.07" y="494.6" class="k">id</text>
<text x="97.57" y="494.6" class="k">response</text>
<text x="48" y="519.6" class="w">do</text>
<text x="112.01" y="520.6" class="w">if</text>
<text x="182.26" y="526.6" class="w">get</text>
<text x="212.65" y="526.6" class="k">global NotifierEstado</text>
<text x="385.29" y="526.1" class="k">=</text>
<text x="437.55" y="526.6" class="k">0</text>
<text x="85.31" y="556.6" class="w">then</text>
<text x="135.26" y="557.6" class="w">set</text>
<text x="164.82" y="557.6" class="k">global NombreNuevaPuntuacion</text>
<text x="402" y="557.6" class="w">to</text>
<text x="443.43" y="557.6" class="w">get</text>
<text x="473.82" y="557.6" class="k">response</text>
<text x="135.26" y="583.6" class="w">set</text>
<text x="164.82" y="583.6" class="k">global NotifierEstado</text>
<text x="326.16" y="583.6" class="w">to</text>
<text x="367.6" y="583.6" class="k">1</text>
<text x="135.26" y="609.6" class="w">call</text>
<text x="171.34" y="609.6" class="k">Notifier1</text>
<text x="251.96" y="609.6" class="w">.Show Text Input Dialog</text>
<text x="394.26" y="634.6" class="w">id</text>
<text x="434.98" y="634.6" class="k">1001</text>
<text x="382.85" y="660.6" class="w">title</text>
<text x="435.28" y="658.4" class="qt">“</text>
<text x="449.86" y="660.6" class="k">Equipo 1</text>
<text x="518.06" y="658.4" class="qt">”</text>
<text x="330.93" y="686.6" class="w">default Text</text>
<text x="435.28" y="684.4" class="qt">“</text>
<text x="464.24" y="684.4" class="qt">”</text>
<text x="378.77" y="712.6" class="w">icon</text>
<text x="435.28" y="710.4" class="qt">“</text>
<text x="464.24" y="710.4" class="qt">”</text>
<text x="382.03" y="738.6" class="w">hint</text>
<text x="435.28" y="736.4" class="qt">“</text>
<text x="449.86" y="738.6" class="k"> Introduce el Equipo 1...</text>
<text x="615.08" y="736.4" class="qt">”</text>
<text x="342.91" y="764.6" class="w">fullscreen</text>
<text x="434.98" y="764.6" class="k">false</text>
<text x="335.55" y="790.6" class="w">cancelable</text>
<text x="434.98" y="790.6" class="k">false</text>
<text x="338.27" y="816.6" class="w">input Type</text>
<text x="434.98" y="816.6" class="k">3</text>
<text x="334.19" y="842.6" class="w">button Text</text>
<text x="435.28" y="840.4" class="qt">“</text>
<text x="449.86" y="842.6" class="k">Continuar</text>
<text x="523.76" y="840.4" class="qt">”</text>
<text x="286.09" y="868.6" class="w">cancel Button Text</text>
<text x="435.28" y="866.4" class="qt">“</text>
<text x="449.86" y="868.6" class="k">Cancelar</text>
<text x="518.86" y="866.4" class="qt">”</text>
<text x="334.76" y="894.6" class="w">text Colour</text>
<text x="334.75" y="920.6" class="w">hint Colour</text>
<text x="135.26" y="946.6" class="w">call</text>
<text x="171.34" y="946.6" class="k">Principal</text>
<text x="253.59" y="946.6" class="w">.Show Keyboard</text>
<text x="85.31" y="975.6" class="w">else if</text>
<text x="182.26" y="981.6" class="w">get</text>
<text x="212.65" y="981.6" class="k">global NotifierEstado</text>
<text x="385.29" y="981.1" class="k">=</text>
<text x="437.55" y="981.6" class="k">1</text>
<text x="85.31" y="1010.6" class="w">then</text>
<text x="135.26" y="1011.6" class="w">set</text>
<text x="164.82" y="1011.6" class="k">global Equipo1Nueva</text>
<text x="330.27" y="1011.6" class="w">to</text>
<text x="371.7" y="1011.6" class="w">get</text>
<text x="402.09" y="1011.6" class="k">response</text>
<text x="135.26" y="1037.6" class="w">set</text>
<text x="164.82" y="1037.6" class="k">global NotifierEstado</text>
<text x="326.16" y="1037.6" class="w">to</text>
<text x="367.6" y="1037.6" class="k">2</text>
<text x="135.26" y="1063.6" class="w">call</text>
<text x="171.34" y="1063.6" class="k">Notifier1</text>
<text x="251.96" y="1063.6" class="w">.Show Text Input Dialog</text>
<text x="394.26" y="1088.6" class="w">id</text>
<text x="434.98" y="1088.6" class="k">1002</text>
<text x="382.85" y="1114.6" class="w">title</text>
<text x="435.28" y="1112.4" class="qt">“</text>
<text x="449.86" y="1114.6" class="k">Equipo 1</text>
<text x="518.06" y="1112.4" class="qt">”</text>
<text x="330.93" y="1140.6" class="w">default Text</text>
<text x="435.28" y="1138.4" class="qt">“</text>
<text x="464.24" y="1138.4" class="qt">”</text>
<text x="378.77" y="1166.6" class="w">icon</text>
<text x="435.28" y="1164.4" class="qt">“</text>
<text x="464.24" y="1164.4" class="qt">”</text>
<text x="382.03" y="1192.6" class="w">hint</text>
<text x="435.28" y="1190.4" class="qt">“</text>
<text x="449.86" y="1192.6" class="k"> Introduce el Equipo 2...</text>
<text x="615.08" y="1190.4" class="qt">”</text>
<text x="342.91" y="1218.6" class="w">fullscreen</text>
<text x="434.98" y="1218.6" class="k">false</text>
<text x="335.55" y="1244.6" class="w">cancelable</text>
<text x="434.98" y="1244.6" class="k">false</text>
<text x="338.27" y="1270.6" class="w">input Type</text>
<text x="434.98" y="1270.6" class="k">3</text>
<text x="334.19" y="1296.6" class="w">button Text</text>
<text x="435.28" y="1294.4" class="qt">“</text>
<text x="449.86" y="1296.6" class="k">Continuar</text>
<text x="523.76" y="1294.4" class="qt">”</text>
<text x="286.09" y="1322.6" class="w">cancel Button Text</text>
<text x="435.28" y="1320.4" class="qt">“</text>
<text x="449.86" y="1322.6" class="k">Cancelar</text>
<text x="518.86" y="1320.4" class="qt">”</text>
<text x="334.76" y="1348.6" class="w">text Colour</text>
<text x="334.75" y="1374.6" class="w">hint Colour</text>
<text x="135.26" y="1400.6" class="w">call</text>
<text x="171.34" y="1400.6" class="k">Principal</text>
<text x="253.59" y="1400.6" class="w">.Show Keyboard</text>
<text x="85.31" y="1429.6" class="w">else if</text>
<text x="182.26" y="1435.6" class="w">get</text>
<text x="212.65" y="1435.6" class="k">global NotifierEstado</text>
<text x="385.29" y="1435.1" class="k">=</text>
<text x="437.55" y="1435.6" class="k">2</text>
<text x="85.31" y="1465.6" class="w">then</text>
<text x="135.26" y="1466.6" class="w">set</text>
<text x="164.82" y="1466.6" class="k">global Equipo2Nueva</text>
<text x="330.27" y="1466.6" class="w">to</text>
<text x="371.7" y="1466.6" class="w">get</text>
<text x="402.09" y="1466.6" class="k">response</text>
<text x="135.26" y="1492.6" class="w">call</text>
<text x="171.34" y="1492.6" class="k">Notifier1</text>
<text x="251.96" y="1492.6" class="w">.Show Choose Dialog</text>
<text x="333.39" y="1517.6" class="w">message</text>
<text x="422.2" y="1516.8" class="w">join “ Estás a punto de cre...</text>
<text x="370.08" y="1542.6" class="w">title</text>
<text x="422.5" y="1540.4" class="qt">“</text>
<text x="437.09" y="1542.6" class="k">Creando puntuación...</text>
<text x="591.71" y="1540.4" class="qt">”</text>
<text x="313.26" y="1568.6" class="w">button1 Text</text>
<text x="422.5" y="1566.4" class="qt">“</text>
<text x="437.09" y="1568.6" class="k">Crear</text>
<text x="484.06" y="1566.4" class="qt">”</text>
<text x="313.26" y="1594.6" class="w">button2 Text</text>
<text x="422.5" y="1592.4" class="qt">“</text>
<text x="451.46" y="1592.4" class="qt">”</text>
<text x="322.78" y="1620.6" class="w">cancelable</text>
<text x="422.2" y="1620.6" class="k">true</text>
<text x="48" y="1708.5" class="w">when</text>
<text x="97.14" y="1708.5" class="k">Notifier1</text>
<text x="177.75" y="1708.5" class="w">.After Choosing</text>
<text x="62.07" y="1733.5" class="k">choice</text>
<text x="48" y="1758.5" class="w">do</text>
<text x="112.01" y="1759.5" class="w">if</text>
<text x="182.26" y="1765.5" class="w">get</text>
<text x="212.65" y="1765.5" class="k">choice</text>
<text x="292.34" y="1765" class="k">=</text>
<text x="344.91" y="1763.3" class="qt">“</text>
<text x="359.49" y="1765.5" class="k">Crear</text>
<text x="406.47" y="1763.3" class="qt">”</text>
<text x="85.31" y="1795.5" class="w">then</text>
<text x="135.26" y="1796.5" class="w">call</text>
<text x="171.34" y="1796.5" class="k">Notifier1</text>
<text x="251.96" y="1796.5" class="w">.Show Progress Dialog</text>
<text x="341.53" y="1821.5" class="w">message</text>
<text x="430.64" y="1819.3" class="qt">“</text>
<text x="445.22" y="1821.5" class="k">Espera un momento...</text>
<text x="599.82" y="1819.3" class="qt">”</text>
<text x="378.21" y="1847.5" class="w">title</text>
<text x="430.64" y="1845.3" class="qt">“</text>
<text x="445.22" y="1847.5" class="k">Creando...</text>
<text x="524.01" y="1845.3" class="qt">”</text>
<text x="161.96" y="1873.5" class="w">if</text>
<text x="215.21" y="1873.5" class="w">not</text>
<text x="264.79" y="1873.5" class="w">is empty</text>
<text x="348.6" y="1873.5" class="w">call</text>
<text x="384.68" y="1873.5" class="k">Tiny_DB1</text>
<text x="474.54" y="1873.5" class="w">.Get Tags</text>
<text x="135.26" y="1898.5" class="w">then</text>
<text x="211.91" y="1899.5" class="w">add items to list</text>
<text x="323.8" y="1899.5" class="w"> list</text>
<text x="375" y="1899.5" class="w">call</text>
<text x="411.08" y="1899.5" class="k">Tiny_DB1</text>
<text x="500.93" y="1899.5" class="w">.Get Value</text>
<text x="548.66" y="1924.5" class="w">tag</text>
<text x="598.65" y="1922.3" class="qt">“</text>
<text x="613.23" y="1924.5" class="k">Listas</text>
<text x="661.85" y="1922.3" class="qt">”</text>
<text x="425.28" y="1950.5" class="w">value If Tag Not There</text>
<text x="598.65" y="1948.3" class="qt">“</text>
<text x="627.61" y="1948.3" class="qt">”</text>
<text x="317.99" y="1976.5" class="w">item</text>
<text x="409.8" y="1977.2" class="q">?</text>
<text x="428.4" y="1976.5" class="w">make a list</text>
<text x="527.7" y="1976.5" class="w">get</text>
<text x="558.08" y="1976.5" class="k">global NombreNuevaPuntuacion</text>
<text x="527.7" y="2002.5" class="w">get</text>
<text x="558.08" y="2002.5" class="k">global Equipo1Nueva</text>
<text x="527.7" y="2028.5" class="w">get</text>
<text x="558.08" y="2028.5" class="k">global Equipo2Nueva</text>
<text x="527.7" y="2054.5" class="k">0</text>
<text x="527.7" y="2080.5" class="k">0</text>
<text x="135.26" y="2119.5" class="w">else</text>
<text x="185.21" y="2120.5" class="w">call</text>
<text x="221.29" y="2120.5" class="k">Tiny_DB1</text>
<text x="311.14" y="2120.5" class="w">.Store Value</text>
<text x="370.28" y="2145.5" class="w">tag</text>
<text x="420.27" y="2143.3" class="qt">“</text>
<text x="434.85" y="2145.5" class="k">Listas</text>
<text x="483.47" y="2143.3" class="qt">”</text>
<text x="297.18" y="2171.5" class="w">value To Store</text>
<text x="446.67" y="2171.5" class="w">make a list</text>
<text x="572.67" y="2171.5" class="w">make a list</text>
<text x="671.96" y="2171.5" class="w">get</text>
<text x="702.35" y="2171.5" class="k">global NombreNuevaPuntuacion</text>
<text x="671.96" y="2197.5" class="w">get</text>
<text x="702.35" y="2197.5" class="k">global Equipo1Nueva</text>
<text x="671.96" y="2223.5" class="w">get</text>
<text x="702.35" y="2223.5" class="k">global Equipo2Nueva</text>
<text x="671.96" y="2249.5" class="k">0</text>
<text x="671.96" y="2275.5" class="k">0</text>
<text x="135.26" y="2314.5" class="w">call</text>
<text x="171.34" y="2314.5" class="k">Notifier1</text>
<text x="251.96" y="2314.5" class="w">.Dismiss Progress Dialog</text>
</svg>
</body></html>
